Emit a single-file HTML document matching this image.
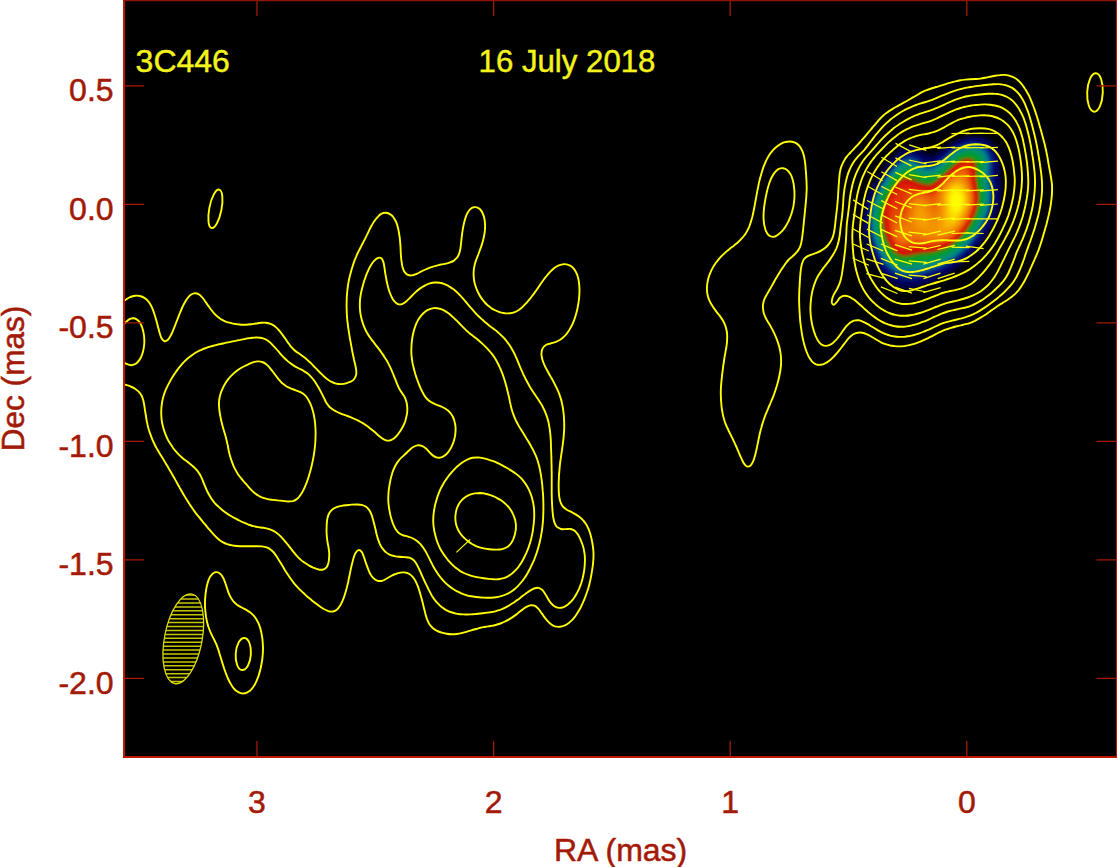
<!DOCTYPE html>
<html><head><meta charset="utf-8"><title>3C446 16 July 2018</title>
<style>
html,body{margin:0;padding:0;background:#fff;}
body{width:1117px;height:867px;overflow:hidden;}
svg{display:block;}
text{font-family:"Liberation Sans",sans-serif;font-size:32px;}
.ax text{fill:#9a1c0a;stroke:#b81a06;stroke-width:0.55px;}
.yl text{fill:#f4f41c;stroke:#f4f41c;stroke-width:0.45px;}
</style></head><body>
<svg width="1117" height="867" viewBox="0 0 1117 867">
<defs><filter id="bl" x="-5%" y="-5%" width="110%" height="110%"><feGaussianBlur stdDeviation="0.8"/></filter>
<clipPath id="pc"><rect x="124" y="0" width="993" height="757"/></clipPath></defs>
<rect x="0" y="0" width="1117" height="867" fill="#fff"/>
<rect x="124" y="0" width="993" height="757" fill="#000"/>
<g clip-path="url(#pc)">
<g filter="url(#bl)"><path d="M914.0 292.0L910.0 292.4L907.0 292.3L901.0 291.3L898.0 290.3L895.0 289.0L892.0 287.4L889.0 285.4L883.0 280.3L877.5 274.0L872.7 267.0L868.5 259.0L864.7 250.0L862.2 242.0L860.4 233.0L859.8 225.0L860.1 216.0L861.2 208.0L863.3 200.0L866.5 192.0L869.5 186.0L874.4 178.0L881.4 168.0L887.3 160.0L892.0 154.3L896.0 150.2L899.0 147.7L903.0 145.3L906.0 144.1L909.0 143.5L912.0 143.4L914.0 143.6L917.0 144.5L919.0 145.5L926.0 150.1L928.0 151.2L930.0 151.8L932.0 151.8L935.0 151.1L937.2 150.0L948.0 142.6L953.0 139.6L958.0 137.2L963.0 135.3L970.0 133.9L976.0 133.5L982.0 134.3L985.0 135.1L988.0 136.2L991.0 137.8L994.0 140.0L996.0 142.0L998.4 145.0L1000.0 148.0L1001.2 151.0L1002.3 155.0L1002.7 158.0L1003.0 174.0L1004.3 189.0L1004.2 194.0L1003.9 198.0L1002.9 204.0L1001.3 210.0L998.8 217.0L995.7 224.0L992.7 230.0L989.2 236.0L985.3 242.0L981.8 247.0L977.8 252.0L973.0 257.4L968.0 262.3L963.0 266.7L957.0 271.4L951.0 275.6L945.0 279.3L939.0 282.7L931.0 286.5L924.0 289.4L918.0 291.2L914.0 292.0Z" fill="#00001b"/><path d="M915.0 287.1L911.0 287.6L908.0 287.7L905.0 287.4L902.0 286.9L899.0 286.0L896.0 284.7L893.0 283.2L890.0 281.2L885.0 277.0L879.6 271.0L874.8 264.0L870.6 256.0L866.7 246.0L864.4 238.0L863.1 230.0L862.7 222.0L863.2 214.0L864.6 206.0L867.5 197.0L870.6 190.0L874.5 183.0L878.3 177.0L884.6 168.0L889.2 162.0L893.0 157.5L897.0 153.6L901.0 150.6L904.0 149.0L906.0 148.3L909.0 147.7L912.0 147.7L914.0 148.0L918.0 149.6L925.0 154.2L927.0 155.3L929.0 155.9L931.4 156.0L934.0 155.4L937.0 153.9L948.0 145.9L953.0 142.7L958.0 140.2L963.0 138.3L966.0 137.5L970.0 136.8L976.0 136.6L982.0 137.5L987.0 139.4L990.0 141.3L992.1 143.0L994.0 145.1L996.0 148.0L997.5 151.0L998.5 154.0L999.4 160.0L999.3 175.0L1000.7 191.0L1000.4 198.0L999.5 204.0L997.6 211.0L995.4 217.0L992.2 224.0L988.6 231.0L985.6 236.0L978.7 246.0L974.6 251.0L970.9 255.0L966.9 259.0L962.0 263.3L957.0 267.2L951.0 271.4L946.0 274.5L940.0 277.8L934.0 280.6L927.0 283.5L921.0 285.6L915.0 287.1Z" fill="#000050"/><path d="M913.0 284.0L907.0 284.3L904.0 283.9L901.0 283.3L896.0 281.4L893.0 279.7L890.0 277.7L884.7 273.0L879.6 267.0L875.2 260.0L871.3 252.0L868.4 244.0L866.2 236.0L865.1 229.0L864.8 221.0L865.4 213.0L866.7 206.0L869.2 198.0L872.8 190.0L876.7 183.0L880.5 177.0L885.4 170.0L890.0 164.0L894.0 159.4L897.0 156.6L901.0 153.5L904.0 152.0L906.0 151.2L909.0 150.7L911.0 150.7L914.0 151.2L918.0 153.0L924.0 157.0L926.0 158.1L929.0 159.0L931.0 159.0L934.0 158.2L937.0 156.6L949.0 147.6L954.0 144.4L958.0 142.3L963.0 140.4L969.0 139.0L975.0 138.7L980.0 139.4L985.0 141.2L988.0 142.9L990.0 144.5L992.0 146.6L993.7 149.0L994.7 151.0L995.8 154.0L996.5 157.0L997.0 161.0L996.8 176.0L998.1 192.0L997.7 200.0L996.6 206.0L994.8 212.0L992.5 218.0L989.3 225.0L985.5 232.0L982.4 237.0L975.9 246.0L972.0 250.6L968.0 254.8L964.0 258.6L959.0 262.7L954.0 266.4L949.0 269.7L944.0 272.6L938.0 275.6L931.0 278.6L923.0 281.6L917.0 283.3L913.0 284.0Z" fill="#020660"/><path d="M914.0 281.2L908.0 281.6L905.0 281.4L902.0 280.9L899.0 280.0L896.0 278.7L891.0 275.7L886.0 271.4L881.3 266.0L877.4 260.0L873.3 252.0L870.2 244.0L867.8 235.0L866.6 227.0L866.4 220.0L867.2 212.0L868.6 205.0L871.3 197.0L874.5 190.0L877.8 184.0L881.6 178.0L886.5 171.0L890.3 166.0L894.0 161.8L897.0 158.9L900.0 156.6L904.0 154.3L907.0 153.4L909.0 153.1L911.0 153.1L913.0 153.5L917.0 155.1L923.0 159.1L926.0 160.7L928.0 161.3L931.0 161.3L934.0 160.4L936.7 159.0L952.0 147.4L957.0 144.5L962.0 142.4L968.0 140.9L971.0 140.5L974.0 140.4L979.0 141.1L981.0 141.6L984.0 142.8L986.0 144.0L988.6 146.0L990.5 148.0L992.0 150.2L993.4 153.0L994.3 156.0L994.8 159.0L995.0 162.0L994.7 176.0L996.1 192.0L996.1 196.0L995.7 200.0L994.6 206.0L992.9 212.0L990.6 218.0L987.3 225.0L981.6 235.0L978.3 240.0L974.5 245.0L971.0 249.1L967.0 253.3L963.0 257.0L958.0 261.1L949.0 267.3L943.0 270.7L938.0 273.2L932.0 275.7L924.0 278.5L918.0 280.3L914.0 281.2Z" fill="#040c70"/><path d="M913.0 279.0L907.0 279.3L902.0 278.6L899.0 277.7L896.0 276.4L891.0 273.3L886.0 268.9L881.2 263.0L877.5 257.0L873.7 249.0L871.2 242.0L869.1 234.0L868.1 227.0L867.9 219.0L868.5 212.0L870.3 204.0L872.7 197.0L876.4 189.0L879.8 183.0L883.7 177.0L887.3 172.0L891.2 167.0L895.0 162.8L898.0 160.1L901.0 157.9L904.0 156.3L907.0 155.4L909.0 155.1L911.0 155.2L913.0 155.6L917.0 157.4L922.5 161.0L925.0 162.4L928.0 163.3L931.0 163.3L934.0 162.3L936.5 161.0L940.0 158.5L948.0 152.0L952.0 149.1L957.0 146.1L962.0 143.9L968.0 142.3L973.0 141.9L978.0 142.4L981.0 143.3L983.0 144.2L985.0 145.3L987.2 147.0L989.0 149.0L990.4 151.0L991.5 153.0L992.5 156.0L993.1 159.0L993.4 162.0L992.9 176.0L994.4 192.0L994.4 196.0L994.1 200.0L993.2 205.0L991.3 212.0L988.5 219.0L985.7 225.0L982.4 231.0L979.3 236.0L972.6 245.0L969.0 249.1L965.0 253.2L961.0 256.7L956.0 260.7L947.0 266.5L942.0 269.2L937.0 271.5L931.0 273.9L923.0 276.6L917.0 278.2L913.0 279.0Z" fill="#041b7c"/><path d="M912.0 277.1L909.0 277.4L906.0 277.3L901.0 276.4L898.0 275.3L895.0 273.9L890.0 270.4L885.4 266.0L881.5 261.0L877.4 254.0L874.3 247.0L871.7 239.0L869.9 231.0L869.1 224.0L869.2 217.0L870.1 210.0L871.8 203.0L874.3 196.0L877.6 189.0L880.5 184.0L884.3 178.0L888.6 172.0L892.0 167.8L895.0 164.6L898.0 161.8L901.0 159.6L904.0 158.1L906.0 157.4L908.0 157.0L910.0 157.0L912.0 157.3L916.0 158.8L922.5 163.0L925.0 164.3L928.0 165.1L931.0 165.0L934.0 164.0L937.0 162.3L940.0 160.2L948.0 153.5L952.0 150.5L957.0 147.4L962.0 145.1L968.0 143.6L973.0 143.2L978.0 143.9L981.0 144.9L983.0 145.8L986.0 148.0L988.6 151.0L990.3 154.0L991.5 158.0L991.9 161.0L992.0 164.0L991.5 174.0L991.5 178.0L992.7 189.0L993.0 194.0L992.8 198.0L992.4 202.0L990.5 210.0L987.6 218.0L983.2 227.0L980.3 232.0L977.1 237.0L973.4 242.0L970.1 246.0L963.0 253.2L959.0 256.6L954.0 260.4L945.0 265.9L936.0 270.1L930.0 272.3L922.0 274.8L916.0 276.4L912.0 277.1Z" fill="#023485"/><path d="M914.0 275.0L908.0 275.6L905.0 275.4L902.0 274.9L897.0 273.1L892.0 270.1L887.3 266.0L883.0 260.8L879.4 255.0L875.6 247.0L873.2 240.0L871.2 232.0L870.3 225.0L870.3 217.0L871.1 210.0L872.8 203.0L875.4 196.0L878.8 189.0L881.6 184.0L884.8 179.0L888.4 174.0L892.0 169.4L895.0 166.1L898.0 163.4L901.0 161.2L904.0 159.6L908.0 158.6L910.0 158.6L912.0 159.0L916.0 160.6L922.0 164.5L925.0 166.0L928.0 166.7L931.0 166.5L934.0 165.5L937.0 163.8L940.8 161.0L952.0 151.8L957.0 148.6L962.0 146.3L965.0 145.3L968.0 144.7L973.0 144.4L978.0 145.2L982.0 146.8L985.0 149.0L987.0 151.1L988.7 154.0L990.1 158.0L990.6 161.0L990.7 164.0L990.1 174.0L990.1 178.0L991.4 190.0L991.7 195.0L991.1 202.0L989.6 209.0L986.7 217.0L982.4 226.0L979.6 231.0L976.4 236.0L970.3 244.0L966.7 248.0L963.0 251.6L959.0 255.1L955.0 258.1L947.0 263.3L943.0 265.4L938.0 267.7L933.0 269.6L927.0 271.6L919.0 273.9L914.0 275.0Z" fill="#004b8c"/><path d="M915.0 273.1L909.0 273.9L904.0 273.7L899.0 272.4L894.0 269.8L889.0 265.9L885.0 261.5L881.2 256.0L877.6 249.0L874.6 241.0L872.5 233.0L871.4 226.0L871.2 219.0L871.8 212.0L873.5 204.0L875.6 198.0L879.2 190.0L881.4 186.0L885.2 180.0L888.7 175.0L892.0 170.9L895.0 167.6L898.0 164.8L901.0 162.6L904.0 161.1L906.0 160.4L908.0 160.1L910.0 160.2L912.0 160.5L916.0 162.3L921.8 166.0L924.0 167.2L927.0 168.1L929.0 168.2L930.8 168.0L934.0 166.9L937.0 165.2L941.0 162.2L952.0 153.0L957.0 149.7L961.0 147.7L964.0 146.7L967.0 145.9L972.0 145.5L977.0 146.1L981.0 147.7L984.0 149.8L986.0 152.0L987.8 155.0L989.0 159.0L989.5 164.0L988.9 178.0L990.2 190.0L990.5 195.0L990.0 202.0L988.4 209.0L985.6 217.0L981.8 225.0L976.5 234.0L973.7 238.0L969.8 243.0L963.0 250.2L959.0 253.7L955.0 256.7L951.0 259.4L946.0 262.4L938.0 266.2L929.0 269.4L915.0 273.1Z" fill="#02618c"/><path d="M912.0 272.1L909.0 272.4L906.0 272.4L901.0 271.5L896.0 269.5L892.0 266.9L889.0 264.3L887.0 262.2L883.1 257.0L879.7 251.0L876.7 244.0L874.5 237.0L872.8 229.0L872.1 222.0L872.3 216.0L873.2 209.0L874.7 203.0L877.3 196.0L880.7 189.0L886.2 180.0L889.8 175.0L893.0 171.1L896.0 168.0L899.0 165.3L902.0 163.4L904.0 162.4L906.0 161.8L908.0 161.5L910.0 161.6L912.0 162.0L915.0 163.3L921.0 167.1L924.0 168.6L927.0 169.5L930.0 169.5L933.0 168.6L937.0 166.5L941.0 163.5L949.0 156.5L953.0 153.3L957.0 150.7L961.0 148.7L966.0 147.1L971.0 146.5L974.0 146.6L976.0 147.0L980.0 148.4L983.0 150.5L985.3 153.0L986.9 156.0L987.9 159.0L988.3 162.0L988.4 165.0L987.8 178.0L989.2 191.0L989.4 196.0L988.8 203.0L986.8 211.0L983.7 219.0L979.6 227.0L976.7 232.0L973.3 237.0L967.0 244.7L960.0 251.5L956.0 254.7L952.0 257.5L944.0 262.2L936.0 265.7L931.0 267.3L923.0 269.6L916.0 271.4L912.0 272.1Z" fill="#04778c"/><path d="M908.0 271.0L903.0 270.6L898.0 269.0L895.0 267.5L893.0 266.2L889.0 262.7L885.0 258.0L881.3 252.0L878.5 246.0L875.8 238.0L874.3 232.0L873.2 225.0L873.0 218.0L873.6 212.0L874.7 206.0L876.6 200.0L879.5 193.0L883.3 186.0L888.6 178.0L894.0 171.3L899.0 166.6L902.0 164.6L904.0 163.7L906.0 163.1L908.0 162.8L911.0 163.1L915.0 164.7L921.0 168.5L924.0 170.0L927.0 170.7L930.0 170.7L933.0 169.9L937.0 167.7L941.0 164.7L949.0 157.6L953.0 154.4L957.0 151.7L961.0 149.7L966.0 148.1L971.0 147.5L974.0 147.7L976.0 148.1L980.0 149.7L983.0 152.0L984.6 154.0L986.1 157.0L987.0 160.0L987.3 165.0L986.7 178.0L987.0 182.0L988.2 191.0L988.4 197.0L987.6 204.0L985.5 212.0L982.2 220.0L977.5 229.0L974.3 234.0L971.5 238.0L965.0 245.5L961.0 249.4L957.0 252.7L949.0 258.2L941.0 262.4L933.0 265.4L916.0 269.9L912.0 270.7L908.0 271.0Z" fill="#058889"/><path d="M913.0 269.1L907.0 269.7L902.0 269.1L897.0 267.2L893.0 264.8L889.0 261.2L885.0 256.3L881.8 251.0L878.7 244.0L876.4 237.0L874.6 229.0L873.9 222.0L874.0 216.0L874.7 210.0L876.4 203.0L879.0 196.0L882.4 189.0L888.1 180.0L894.0 172.5L899.0 167.8L902.0 165.8L904.0 164.9L906.0 164.3L908.0 164.1L911.0 164.4L914.0 165.6L921.0 169.8L924.0 171.2L927.0 172.0L930.0 171.9L933.0 171.0L937.0 168.8L941.0 165.8L953.0 155.4L957.0 152.7L961.0 150.6L966.0 148.9L971.0 148.4L975.0 148.8L979.0 150.3L981.4 152.0L983.3 154.0L985.0 157.0L985.9 160.0L986.4 165.0L985.7 175.0L985.8 179.0L987.2 191.0L987.5 196.0L986.9 203.0L985.2 210.0L982.2 218.0L978.2 226.0L972.6 235.0L969.6 239.0L966.2 243.0L960.0 249.1L956.0 252.4L952.0 255.2L944.0 259.8L936.0 263.2L929.0 265.3L913.0 269.1Z" fill="#048b7d"/><path d="M911.0 268.1L906.0 268.4L901.0 267.5L898.0 266.4L896.0 265.4L892.0 262.6L888.0 258.7L884.0 253.1L880.9 247.0L878.2 240.0L876.3 233.0L875.0 226.0L874.6 219.0L875.0 213.0L876.3 206.0L878.2 200.0L880.7 194.0L884.4 187.0L889.7 179.0L895.0 172.6L898.0 169.8L900.0 168.2L904.0 166.1L906.0 165.5L908.0 165.3L911.0 165.7L914.0 166.9L920.8 171.0L923.0 172.1L925.0 172.8L927.0 173.1L930.0 173.0L933.0 172.1L937.0 169.9L942.0 166.0L953.0 156.4L957.0 153.6L961.0 151.5L966.0 149.8L971.0 149.3L975.0 149.8L977.0 150.5L979.0 151.5L981.0 153.0L983.0 155.4L984.3 158.0L985.1 161.0L985.4 166.0L984.8 175.0L984.8 179.0L986.4 192.0L986.5 198.0L985.7 205.0L983.7 212.0L980.4 220.0L976.2 228.0L973.7 232.0L970.2 237.0L964.2 244.0L961.0 247.1L957.0 250.5L950.0 255.4L942.0 259.7L935.0 262.4L928.0 264.3L915.0 267.4L911.0 268.1Z" fill="#028f72"/><path d="M909.0 267.1L904.0 266.9L901.0 266.3L899.0 265.6L895.0 263.6L891.0 260.5L887.0 256.0L883.8 251.0L880.9 245.0L878.4 238.0L876.7 231.0L875.6 224.0L875.4 218.0L875.9 212.0L877.1 206.0L878.9 200.0L881.4 194.0L885.2 187.0L890.0 179.8L895.0 173.7L898.0 170.9L900.0 169.3L904.0 167.2L906.0 166.7L908.0 166.5L911.0 166.9L914.0 168.2L920.0 171.8L923.0 173.3L925.0 173.9L927.0 174.2L930.0 174.1L932.0 173.6L934.0 172.7L938.0 170.3L942.0 167.1L953.0 157.3L957.0 154.5L961.0 152.3L966.0 150.6L970.0 150.1L974.0 150.5L976.0 151.1L978.0 152.0L980.0 153.5L982.0 155.7L983.2 158.0L984.1 161.0L984.5 166.0L983.9 175.0L983.9 179.0L985.5 192.0L985.7 198.0L984.8 205.0L982.9 212.0L979.6 220.0L975.3 228.0L972.2 233.0L969.2 237.0L963.1 244.0L960.0 246.9L956.0 250.2L949.0 255.0L942.0 258.6L934.0 261.6L915.0 266.1L909.0 267.1Z" fill="#019266"/><path d="M914.0 265.1L909.0 265.9L904.0 265.8L901.0 265.2L899.0 264.5L895.0 262.4L891.0 259.2L887.0 254.5L883.6 249.0L881.0 243.0L878.7 236.0L876.9 228.0L876.2 221.0L876.3 215.0L877.3 208.0L879.0 202.0L881.3 196.0L884.8 189.0L889.9 181.0L895.0 174.8L898.0 172.0L900.0 170.4L902.0 169.2L904.0 168.3L906.0 167.8L908.0 167.6L911.0 168.1L914.0 169.4L920.0 173.0L923.0 174.4L925.0 175.0L927.0 175.3L930.0 175.2L932.0 174.6L934.0 173.8L938.0 171.3L942.0 168.1L953.0 158.2L957.0 155.3L960.0 153.6L965.0 151.7L969.0 151.0L973.0 151.2L975.0 151.7L977.0 152.6L979.1 154.0L981.0 156.0L982.6 159.0L983.4 162.0L983.6 166.0L983.0 175.0L983.0 179.0L984.7 192.0L984.9 197.0L984.2 204.0L982.4 211.0L979.7 218.0L975.7 226.0L970.6 234.0L964.9 241.0L962.0 244.0L958.0 247.7L951.0 252.8L944.0 256.7L937.0 259.6L931.0 261.3L914.0 265.1Z" fill="#00965a"/><path d="M913.0 264.1L908.0 264.8L903.0 264.5L899.0 263.3L895.0 261.2L891.0 257.9L887.0 253.1L884.0 248.0L881.4 242.0L879.2 235.0L877.7 228.0L877.0 221.0L877.1 215.0L877.8 209.0L879.7 202.0L882.4 195.0L885.5 189.0L890.1 182.0L895.0 175.9L898.0 173.0L900.0 171.5L902.0 170.3L904.0 169.4L907.0 168.8L910.0 169.0L913.0 170.1L920.0 174.1L923.0 175.5L927.0 176.4L930.0 176.2L932.0 175.6L934.0 174.8L938.0 172.3L942.1 169.0L954.0 158.3L958.0 155.5L961.0 153.9L966.0 152.2L970.0 151.8L974.0 152.3L977.0 153.6L979.0 155.2L980.5 157.0L981.6 159.0L982.4 162.0L982.8 166.0L982.2 175.0L982.2 179.0L983.9 192.0L984.1 198.0L983.3 205.0L981.3 212.0L978.5 219.0L974.3 227.0L969.0 235.0L963.0 242.0L957.0 247.5L950.0 252.4L943.0 256.2L936.0 258.9L931.0 260.2L913.0 264.1Z" fill="#00984f"/><path d="M912.0 263.1L907.0 263.7L904.0 263.5L902.0 263.2L898.0 261.8L894.0 259.3L890.4 256.0L887.0 251.6L883.9 246.0L881.5 240.0L879.5 233.0L878.2 226.0L877.7 220.0L877.9 214.0L878.7 208.0L880.4 202.0L882.7 196.0L886.3 189.0L890.9 182.0L895.0 177.0L899.0 173.3L903.0 170.9L905.0 170.2L907.0 169.9L910.0 170.2L913.0 171.3L919.5 175.0L923.0 176.6L927.0 177.4L930.0 177.2L932.0 176.6L934.0 175.8L938.0 173.2L943.0 169.1L954.0 159.2L957.0 157.0L960.0 155.2L965.0 153.3L969.0 152.6L973.0 153.0L976.0 154.1L978.5 156.0L980.0 158.0L981.0 160.0L981.7 163.0L981.9 167.0L981.4 175.0L981.4 179.0L983.2 192.0L983.4 198.0L982.6 205.0L980.6 212.0L977.8 219.0L973.5 227.0L968.1 235.0L965.0 238.8L962.1 242.0L956.0 247.4L949.0 252.1L942.0 255.7L935.0 258.2L912.0 263.1Z" fill="#009944"/><path d="M911.0 262.1L906.0 262.6L902.0 262.1L898.0 260.7L893.8 258.0L890.0 254.3L886.9 250.0L884.0 244.4L881.6 238.0L879.8 231.0L878.7 224.0L878.4 218.0L878.8 212.0L879.9 206.0L881.8 200.0L884.3 194.0L887.6 188.0L892.0 181.6L896.0 177.0L900.0 173.6L902.0 172.4L904.0 171.5L907.0 171.0L910.0 171.3L913.0 172.5L919.3 176.0L923.0 177.6L927.0 178.4L930.0 178.2L932.0 177.6L934.0 176.7L938.0 174.2L943.0 170.1L954.0 160.1L958.0 157.2L961.0 155.5L965.0 154.0L969.0 153.4L973.0 153.9L976.0 155.2L978.0 156.9L979.0 158.1L980.0 160.0L980.8 163.0L981.1 167.0L980.6 175.0L980.6 179.0L982.5 193.0L982.7 199.0L981.9 205.0L979.9 212.0L976.6 220.0L972.8 227.0L967.3 235.0L962.0 241.1L958.9 244.0L955.0 247.2L948.0 251.8L942.0 254.8L935.0 257.2L911.0 262.1Z" fill="#009b39"/><path d="M910.0 261.1L905.0 261.4L901.0 260.8L897.0 259.1L893.0 256.2L890.0 253.0L886.6 248.0L884.2 243.0L882.1 237.0L880.3 230.0L879.4 224.0L879.1 218.0L879.5 212.0L880.6 206.0L882.5 200.0L885.1 194.0L888.4 188.0L892.0 182.8L896.1 178.0L900.0 174.6L902.0 173.4L904.0 172.6L907.0 172.1L910.0 172.5L913.0 173.7L919.0 177.0L923.0 178.7L927.0 179.4L930.0 179.2L932.0 178.6L934.0 177.7L938.0 175.1L943.0 171.0L954.0 161.0L958.0 158.0L961.0 156.3L965.0 154.8L969.0 154.2L971.0 154.4L973.0 154.8L975.5 156.0L977.0 157.2L978.4 159.0L979.4 161.0L980.1 164.0L980.3 167.0L979.8 175.0L979.8 179.0L981.8 193.0L982.0 199.0L981.7 202.0L981.0 206.0L978.9 213.0L975.4 221.0L971.4 228.0L966.0 235.6L960.1 242.0L954.0 247.1L947.0 251.5L941.0 254.3L935.0 256.3L930.0 257.4L920.0 259.0L910.0 261.1Z" fill="#009c2e"/><path d="M910.0 260.0L905.0 260.4L901.0 259.7L897.0 258.0L894.0 255.9L890.2 252.0L887.5 248.0L884.6 242.0L882.5 236.0L880.9 229.0L880.1 223.0L879.8 217.0L880.3 211.0L881.3 206.0L883.1 200.0L885.8 194.0L889.0 188.3L892.7 183.0L896.0 179.2L900.0 175.7L903.0 174.0L906.0 173.2L909.0 173.4L912.0 174.4L919.0 178.1L923.0 179.7L927.0 180.4L930.0 180.2L932.0 179.6L934.0 178.7L938.0 176.0L943.0 171.9L954.0 161.8L957.7 159.0L961.0 157.1L965.0 155.6L969.0 155.1L972.0 155.4L975.0 156.8L976.5 158.0L977.9 160.0L978.8 162.0L979.2 164.0L979.4 168.0L979.0 175.0L979.1 179.0L981.1 193.0L981.3 199.0L980.3 206.0L978.2 213.0L974.7 221.0L970.7 228.0L965.7 235.0L960.0 241.2L954.0 246.2L947.0 250.6L941.0 253.4L935.0 255.3L930.0 256.4L920.0 257.8L910.0 260.0Z" fill="#009e23"/><path d="M909.0 259.1L905.0 259.3L901.0 258.7L897.0 257.0L893.1 254.0L890.0 250.5L887.2 246.0L884.9 241.0L883.0 235.0L881.5 228.0L880.7 222.0L880.6 216.0L881.0 211.0L882.2 205.0L884.0 199.6L886.5 194.0L890.0 188.0L893.6 183.0L897.0 179.2L900.0 176.8L903.0 175.1L906.0 174.4L909.0 174.5L912.0 175.6L919.0 179.1L923.0 180.7L927.0 181.4L930.0 181.2L932.0 180.6L934.0 179.6L938.0 176.9L944.0 171.9L954.0 162.7L957.0 160.3L960.0 158.4L964.0 156.7L968.0 155.9L971.0 156.1L974.0 157.3L976.0 158.9L976.8 160.0L977.8 162.0L978.3 164.0L978.6 168.0L978.3 175.0L978.3 179.0L978.8 183.0L980.4 193.0L980.6 199.0L980.4 202.0L979.7 206.0L977.6 213.0L974.5 220.0L970.0 228.0L964.9 235.0L962.0 238.3L959.0 241.3L953.0 246.1L946.0 250.3L941.0 252.5L935.0 254.4L930.0 255.4L920.0 256.7L909.0 259.1Z" fill="#1c941b"/><path d="M908.0 258.1L904.0 258.2L900.0 257.3L896.0 255.3L893.0 252.8L889.9 249.0L887.0 244.0L885.0 239.0L883.2 233.0L882.1 227.0L881.4 221.0L881.4 215.0L881.9 210.0L883.0 204.8L885.0 199.0L887.8 193.0L890.8 188.0L894.0 183.6L898.0 179.4L900.0 177.8L902.0 176.6L905.0 175.6L907.0 175.5L910.0 176.0L919.0 180.2L924.0 182.0L928.0 182.4L930.0 182.2L932.0 181.6L935.0 180.0L939.0 177.0L954.0 163.6L957.0 161.2L960.0 159.2L964.0 157.5L968.0 156.7L971.0 157.0L974.0 158.4L975.0 159.3L976.3 161.0L977.2 163.0L977.6 165.0L977.8 168.0L977.5 175.0L977.6 179.0L978.0 183.0L979.8 193.0L980.0 197.0L979.9 200.0L979.6 203.0L978.8 207.0L976.5 214.0L972.8 222.0L968.6 229.0L963.3 236.0L958.0 241.3L952.0 245.9L945.0 249.9L939.0 252.3L934.0 253.7L930.0 254.4L920.0 255.6L908.0 258.1Z" fill="#378a14"/><path d="M908.0 257.0L904.0 257.1L900.0 256.3L897.0 254.8L893.4 252.0L890.8 249.0L888.0 244.4L886.0 239.7L884.2 234.0L883.0 228.0L882.1 221.0L882.1 215.0L882.6 210.0L884.0 204.0L885.7 199.0L888.0 194.0L891.0 188.9L894.7 184.0L898.0 180.5L900.0 179.0L902.0 177.8L905.0 176.8L907.0 176.6L910.0 177.2L919.0 181.3L924.0 183.0L928.0 183.4L930.0 183.2L932.0 182.6L935.0 181.0L938.0 178.8L944.0 173.6L954.6 164.0L957.1 162.0L960.0 160.1L964.0 158.3L967.0 157.6L970.0 157.8L973.0 158.9L975.2 161.0L976.2 163.0L976.7 165.0L977.0 168.0L976.8 179.0L977.3 183.0L979.1 193.0L979.4 197.0L979.3 200.0L978.4 206.0L976.3 213.0L972.7 221.0L968.6 228.0L963.3 235.0L958.0 240.5L952.0 245.1L945.0 249.1L939.0 251.5L934.0 252.8L930.0 253.5L919.0 254.6L908.0 257.0Z" fill="#53800c"/><path d="M907.0 256.0L903.0 256.0L899.5 255.0L896.0 253.1L893.0 250.4L890.4 247.0L888.0 242.7L886.1 238.0L884.5 232.0L883.4 226.0L882.9 220.0L882.9 214.0L883.5 209.0L884.7 204.0L886.5 199.0L889.0 193.7L892.0 188.8L895.7 184.0L899.0 180.9L902.0 178.9L905.0 178.0L907.0 177.9L910.0 178.5L919.0 182.4L924.0 184.0L928.0 184.4L930.0 184.2L932.0 183.6L935.0 181.9L938.0 179.7L955.0 164.5L960.0 160.9L964.0 159.1L967.0 158.5L970.0 158.7L972.8 160.0L974.0 161.1L975.0 162.7L976.0 166.0L976.2 169.0L976.1 179.0L976.6 183.0L978.5 193.0L978.8 197.0L978.6 201.0L977.6 207.0L975.3 214.0L971.5 222.0L967.2 229.0L962.5 235.0L957.0 240.5L951.0 245.0L944.0 248.7L939.0 250.6L934.0 251.9L930.0 252.5L919.0 253.5L910.0 255.6L907.0 256.0Z" fill="#865306"/><path d="M906.0 255.0L902.0 254.7L899.0 253.8L896.0 252.0L893.0 249.2L890.0 245.0L888.0 241.0L886.3 236.0L885.0 230.7L884.1 225.0L883.6 219.0L883.8 213.0L884.5 208.0L885.8 203.0L887.7 198.0L890.0 193.4L893.0 188.7L896.0 184.9L899.0 182.1L902.0 180.2L905.0 179.2L907.0 179.1L910.0 179.8L919.0 183.4L924.0 185.0L928.0 185.5L931.0 185.0L934.0 183.6L937.0 181.4L955.0 165.4L960.0 161.8L964.0 159.9L967.0 159.4L970.0 159.7L972.0 160.7L973.0 161.6L974.0 163.0L975.0 166.0L975.3 169.0L975.4 179.0L977.8 193.0L978.1 197.0L978.0 201.0L977.0 207.0L974.6 214.0L970.8 222.0L966.5 229.0L961.7 235.0L956.0 240.5L950.0 244.8L944.0 247.9L939.0 249.7L934.0 251.0L930.0 251.5L919.0 252.4L909.0 254.6L906.0 255.0Z" fill="#c11c01"/><path d="M911.0 253.0L907.0 253.8L903.0 253.8L900.0 253.1L897.0 251.5L894.0 249.0L891.6 246.0L889.3 242.0L887.4 237.0L885.8 231.0L884.8 224.0L884.5 218.0L884.7 212.0L885.6 207.0L887.0 201.9L889.0 197.0L892.0 191.6L895.4 187.0L899.0 183.4L902.0 181.5L905.0 180.6L907.0 180.5L909.0 180.9L919.0 184.5L925.0 186.2L929.0 186.5L932.0 185.7L934.0 184.7L937.0 182.4L954.0 167.2L959.4 163.0L963.0 161.2L966.0 160.4L969.0 160.6L971.0 161.4L972.0 162.2L973.0 163.4L973.8 165.0L974.2 167.0L974.6 179.0L977.2 193.0L977.5 197.0L977.5 200.0L976.6 206.0L974.4 213.0L971.3 220.0L967.2 227.0L962.0 233.8L957.0 238.8L951.0 243.3L945.0 246.6L940.0 248.5L935.0 249.9L930.0 250.6L919.0 251.2L916.0 251.7L911.0 253.0Z" fill="#d21000"/><path d="M908.0 253.1L904.0 253.4L901.0 252.9L898.0 251.6L895.0 249.4L892.1 246.0L890.2 243.0L888.5 239.0L886.9 234.0L885.7 228.0L885.0 222.0L884.9 216.0L885.3 211.0L886.2 206.0L888.0 200.4L890.0 196.0L893.0 190.9L896.0 187.0L899.0 184.1L902.0 182.2L905.0 181.3L907.0 181.2L909.0 181.6L920.0 185.4L925.0 186.7L929.0 187.0L932.0 186.3L934.0 185.2L937.0 182.9L954.0 167.7L957.0 165.2L960.0 163.1L963.0 161.6L966.0 160.9L969.0 161.1L971.0 162.1L972.7 164.0L973.8 167.0L974.0 170.0L974.3 179.0L976.9 193.0L977.2 197.0L977.2 200.0L976.3 206.0L974.1 213.0L970.4 221.0L966.2 228.0L961.4 234.0L956.0 239.3L950.0 243.5L944.0 246.6L939.0 248.4L934.0 249.6L930.0 250.1L919.0 250.6L916.0 251.1L908.0 253.1Z" fill="#d51500"/><path d="M905.0 252.0L902.0 251.8L899.0 250.7L896.0 248.8L893.4 246.0L891.4 243.0L889.5 239.0L888.2 235.0L887.1 230.0L886.4 225.0L886.1 219.0L886.2 214.0L886.8 209.0L887.7 205.0L889.0 201.0L891.0 196.6L894.0 191.6L896.0 189.0L899.0 186.0L902.0 184.1L905.0 183.2L907.0 183.2L909.0 183.5L922.0 187.3L926.0 188.3L929.0 188.4L932.0 187.7L934.0 186.6L936.0 185.1L953.0 169.7L959.0 164.9L962.0 163.2L965.0 162.3L968.0 162.3L970.0 163.2L971.6 165.0L972.6 168.0L973.4 180.0L976.2 194.0L976.5 198.0L976.4 201.0L976.0 204.0L975.1 208.0L972.6 215.0L969.0 222.1L964.6 229.0L960.0 234.5L955.0 239.1L949.0 243.1L943.0 246.0L938.0 247.6L934.0 248.4L930.0 248.8L921.0 249.0L918.0 249.2L915.0 249.8L908.0 251.6L905.0 252.0Z" fill="#d91b00"/><path d="M908.0 250.1L905.0 250.5L902.0 250.3L899.0 249.3L896.0 247.2L893.2 244.0L891.5 241.0L889.8 237.0L888.7 233.0L887.8 227.0L887.4 221.0L887.5 215.0L888.0 210.0L889.0 205.4L890.9 200.0L893.0 195.8L895.0 192.7L897.2 190.0L900.0 187.5L902.8 186.0L905.0 185.5L907.0 185.5L910.0 185.9L927.0 189.9L930.0 189.9L932.0 189.3L935.0 187.4L947.0 176.1L955.0 169.2L959.0 166.2L962.0 164.5L965.0 163.7L967.0 163.7L969.0 164.5L970.4 166.0L971.0 167.2L971.5 169.0L972.5 180.0L975.5 194.0L975.7 200.0L974.8 206.0L972.6 213.0L969.4 220.0L965.0 227.1L960.0 233.4L955.0 238.0L950.0 241.5L944.0 244.5L939.7 246.0L935.0 247.1L930.0 247.6L921.0 247.5L918.0 247.6L915.0 248.2L908.0 250.1Z" fill="#dd2100"/><path d="M905.0 249.0L902.0 248.8L900.0 248.2L897.0 246.4L895.0 244.4L893.3 242.0L891.7 239.0L890.4 235.0L889.5 231.0L888.9 226.0L888.8 220.0L889.1 215.0L890.0 209.0L891.0 205.0L892.0 202.2L894.0 198.0L896.0 194.9L898.5 192.0L901.0 190.0L903.1 189.0L906.0 188.4L911.0 188.4L916.0 188.9L928.0 191.6L930.0 191.6L932.0 191.1L935.0 189.1L942.9 181.0L947.0 177.2L954.0 171.2L958.0 168.2L961.0 166.4L964.0 165.3L966.0 165.2L968.0 166.0L969.0 167.0L969.6 168.0L970.2 170.0L971.5 180.0L974.5 193.0L975.0 197.0L974.9 201.0L973.9 207.0L971.5 214.0L967.4 222.0L963.0 228.7L958.3 234.0L953.7 238.0L948.0 241.6L942.0 244.2L937.0 245.5L933.0 246.1L929.0 246.3L920.0 245.9L917.0 246.1L914.0 246.7L908.0 248.5L905.0 249.0Z" fill="#e13000"/><path d="M907.0 247.0L904.0 247.4L902.0 247.2L900.0 246.6L898.0 245.4L896.0 243.6L894.1 241.0L893.0 239.0L891.8 236.0L890.9 232.0L890.4 228.0L890.3 224.0L890.6 220.0L891.0 217.3L892.0 212.9L893.0 210.0L894.0 207.9L895.0 206.5L896.0 205.7L897.0 206.1L898.7 208.0L900.0 208.6L901.0 208.4L902.0 207.5L903.0 205.0L903.2 203.0L903.1 199.0L903.3 197.0L904.4 195.0L905.4 194.0L908.0 192.2L911.5 191.0L916.0 190.6L920.0 191.2L928.0 193.3L930.0 193.5L932.0 193.1L933.0 192.6L935.0 191.0L941.1 184.0L946.0 179.2L956.0 170.9L960.0 168.3L963.0 167.1L965.0 167.0L967.0 167.8L968.1 169.0L969.0 171.3L970.5 180.0L973.4 191.0L974.2 196.0L974.2 201.0L973.1 207.0L970.7 214.0L967.2 221.0L963.0 227.4L959.0 232.2L954.0 236.7L949.0 240.0L943.0 242.7L938.0 244.1L933.0 244.8L929.0 244.9L921.0 244.3L917.0 244.3L914.0 244.9L907.0 247.0Z" fill="#e54400"/><path d="M907.0 245.2L904.0 245.6L901.0 245.2L898.0 243.5L896.0 241.5L894.0 238.1L892.9 235.0L892.0 230.0L892.0 226.0L892.3 223.0L893.0 220.5L894.0 218.4L895.0 217.2L897.0 216.2L900.0 215.6L902.0 214.9L903.3 214.0L904.8 212.0L906.3 208.0L908.2 199.0L909.6 196.0L911.0 194.5L913.0 193.3L915.0 192.7L917.0 192.5L921.0 193.0L929.0 195.6L931.0 195.7L932.0 195.6L934.0 194.3L935.0 193.3L940.6 186.0L944.2 182.0L948.0 178.5L953.0 174.5L958.0 171.0L961.0 169.5L963.0 169.0L964.0 169.0L965.0 169.2L966.0 169.8L967.0 171.0L967.8 173.0L969.8 181.0L972.6 191.0L973.4 196.0L973.4 201.0L972.4 207.0L969.9 214.0L966.4 221.0L962.0 227.5L958.0 232.1L953.0 236.4L948.0 239.4L942.0 241.8L937.0 243.0L932.0 243.5L928.0 243.4L920.0 242.5L916.0 242.5L913.0 243.1L907.0 245.2Z" fill="#e85600"/><path d="M907.0 243.0L904.0 243.6L901.0 243.2L899.0 242.1L897.0 240.2L895.6 238.0L894.4 235.0L893.8 232.0L893.7 228.0L894.3 225.0L895.0 223.4L896.0 222.0L898.0 220.6L903.0 218.6L905.0 217.0L906.0 215.6L907.0 213.5L907.8 211.0L910.2 201.0L911.0 198.9L912.2 197.0L913.3 196.0L915.0 195.0L917.0 194.5L919.0 194.4L923.0 195.3L930.0 198.5L932.0 198.8L933.0 198.6L934.0 197.8L935.0 196.6L938.9 190.0L941.8 186.0L945.0 182.4L949.0 178.8L954.0 175.0L959.0 172.0L962.0 171.1L964.0 171.4L965.0 172.0L966.0 173.2L967.0 175.5L971.5 190.0L972.6 196.0L972.7 201.0L971.6 207.0L969.1 214.0L965.5 221.0L961.0 227.5L957.0 231.9L952.0 235.9L947.0 238.7L942.0 240.6L937.0 241.7L932.0 242.0L928.0 241.8L919.0 240.5L916.0 240.4L912.0 241.2L907.0 243.0Z" fill="#eb6400"/><path d="M904.0 241.1L902.0 241.0L901.0 240.7L899.0 239.3L897.8 238.0L896.8 236.0L896.0 233.5L895.8 231.0L896.0 228.8L897.0 226.3L898.0 225.1L899.7 224.0L904.1 222.0L906.0 220.5L907.0 219.1L908.0 217.1L909.0 214.2L911.7 203.0L912.9 200.0L914.0 198.5L915.0 197.6L917.0 196.6L919.0 196.4L922.0 196.9L924.0 197.7L926.2 199.0L932.0 203.7L933.0 204.2L934.0 204.0L935.0 202.9L937.8 195.0L939.6 191.0L942.2 187.0L946.0 182.6L951.0 178.3L954.0 176.2L957.0 174.5L959.0 173.7L961.0 173.2L963.0 173.5L964.0 174.1L965.0 175.2L966.0 177.1L970.4 189.0L971.8 195.0L972.0 198.0L971.9 201.0L971.6 204.0L970.6 208.0L968.0 214.8L964.0 222.0L962.0 225.0L959.0 228.6L955.0 232.5L951.0 235.4L946.0 237.9L941.0 239.5L936.0 240.3L931.0 240.4L927.0 239.9L918.0 238.2L915.0 238.0L912.0 238.4L906.0 240.7L904.0 241.1Z" fill="#ee7100"/><path d="M941.0 238.0L935.0 238.6L930.0 238.4L925.0 237.5L916.0 235.2L913.0 234.7L910.0 235.1L905.0 237.3L903.0 237.6L901.2 237.0L900.0 235.9L899.0 233.7L899.0 231.0L900.0 229.1L901.0 228.2L906.0 225.8L908.0 223.6L909.0 221.6L910.0 218.4L913.0 204.9L914.2 202.0L916.0 199.8L918.0 198.8L920.0 198.6L922.0 199.1L923.9 200.0L925.2 201.0L927.2 203.0L932.0 209.9L933.0 210.9L934.0 211.4L935.0 211.4L936.0 210.8L937.0 209.1L937.3 208.0L938.3 199.0L939.6 194.0L941.4 190.0L943.4 187.0L945.9 184.0L947.9 182.0L953.0 178.1L956.0 176.4L958.0 175.6L960.0 175.2L962.0 175.5L963.0 176.0L964.0 177.0L966.0 180.3L969.0 187.5L970.6 193.0L971.2 197.0L971.2 201.0L970.6 205.0L969.5 209.0L967.1 215.0L964.3 220.0L961.0 224.9L957.5 229.0L954.0 232.1L950.0 234.8L946.0 236.6L941.0 238.0Z" fill="#f07e00"/><path d="M942.0 236.2L939.0 236.5L935.0 236.6L931.0 236.3L927.0 235.6L923.0 234.5L918.9 233.0L916.0 231.6L913.8 230.0L912.3 228.0L911.8 226.0L911.8 224.0L912.9 214.0L914.3 207.0L915.6 204.0L917.4 202.0L919.0 201.3L920.0 201.2L922.0 201.7L924.0 203.0L925.8 205.0L927.1 207.0L930.0 212.6L932.0 215.3L933.0 216.1L934.0 216.5L935.0 216.5L936.0 216.2L937.0 215.5L938.0 214.3L939.0 212.0L939.7 208.0L939.8 201.0L940.2 197.0L941.2 193.0L943.2 189.0L945.0 186.4L947.0 184.1L949.3 182.0L952.0 180.0L955.0 178.3L957.0 177.5L959.0 177.1L961.0 177.3L963.0 178.5L965.0 181.1L967.8 187.0L969.5 192.0L970.3 196.0L970.5 200.0L970.0 204.0L969.0 208.1L967.1 213.0L964.6 218.0L961.4 223.0L958.0 227.1L955.0 230.0L950.8 233.0L946.5 235.0L942.0 236.2Z" fill="#f28800"/><path d="M944.0 234.0L941.0 234.3L938.0 234.2L927.0 232.6L921.9 231.0L919.9 230.0L918.0 228.6L915.9 226.0L915.1 224.0L914.7 222.0L914.6 219.0L914.8 215.0L915.2 212.0L915.9 209.0L917.0 206.5L918.4 205.0L920.0 204.4L922.0 204.9L923.3 206.0L925.0 208.2L929.0 216.5L931.0 219.5L932.0 220.4L934.0 221.2L936.0 220.8L937.0 220.1L938.0 219.2L939.4 217.0L940.9 213.0L941.4 209.0L941.2 201.0L941.4 197.0L942.4 193.0L943.7 190.0L945.0 188.0L947.0 185.5L951.0 181.9L954.0 180.1L956.0 179.3L958.0 178.8L960.0 178.9L962.0 179.8L964.0 182.0L966.3 186.0L968.4 191.0L969.3 195.0L969.7 199.0L969.4 203.0L968.5 207.0L966.7 212.0L964.2 217.0L961.0 222.0L958.0 225.7L955.0 228.6L951.0 231.5L948.0 232.9L944.0 234.0Z" fill="#f49300"/><path d="M948.0 231.2L944.0 231.8L941.0 231.5L939.7 231.0L938.1 230.0L937.3 229.0L937.0 228.0L937.5 226.0L941.0 219.2L942.5 214.0L942.9 209.0L942.5 199.0L943.0 195.0L943.9 192.0L945.0 189.8L947.0 187.0L949.0 184.9L951.3 183.0L954.0 181.4L957.0 180.5L959.0 180.5L961.0 181.2L963.0 182.9L965.0 185.7L967.1 190.0L968.0 193.0L968.7 197.0L968.8 201.0L968.2 205.0L967.0 209.1L965.0 213.8L963.0 217.4L960.0 221.8L957.0 225.3L954.0 227.9L951.0 229.9L948.0 231.2ZM926.0 227.1L923.5 227.0L921.0 225.8L919.2 224.0L918.0 221.6L917.3 218.0L917.5 214.0L918.4 211.0L919.0 210.0L920.0 209.3L921.0 209.3L922.0 209.8L923.0 210.9L924.2 213.0L926.1 218.0L927.7 223.0L928.0 225.0L927.7 226.0L927.0 226.7L926.0 227.1Z" fill="#f59d00"/><path d="M948.0 229.1L946.0 229.2L944.0 228.7L943.0 227.9L942.4 227.0L942.2 226.0L942.2 224.0L943.7 217.0L944.2 213.0L944.3 209.0L943.7 200.0L944.2 195.0L945.0 192.3L946.1 190.0L948.0 187.4L950.0 185.4L952.0 183.9L955.0 182.4L957.0 182.0L959.0 182.1L961.0 183.0L963.0 184.9L965.0 187.9L966.4 191.0L967.4 194.0L968.0 198.0L968.0 201.0L967.3 205.0L966.0 209.4L964.0 213.8L962.0 217.2L959.0 221.4L956.0 224.6L953.0 227.0L951.0 228.1L948.0 229.1Z" fill="#f7a900"/><path d="M950.0 226.3L948.0 226.3L947.0 226.0L945.9 225.0L945.3 223.0L945.7 212.0L944.9 201.0L945.1 196.0L945.9 193.0L946.8 191.0L948.1 189.0L949.8 187.0L952.0 185.3L954.0 184.2L956.0 183.6L958.0 183.6L960.0 184.2L962.0 185.7L964.0 188.3L965.4 191.0L966.4 194.0L967.0 197.0L967.1 201.0L966.7 204.0L965.6 208.0L964.0 211.7L962.0 215.4L960.0 218.3L958.0 220.8L955.0 223.6L953.0 225.0L950.0 226.3Z" fill="#f9b700"/><path d="M952.0 223.1L950.0 223.2L949.0 222.6L948.0 221.1L947.7 220.0L947.1 210.0L946.1 201.0L946.3 196.0L947.0 193.4L948.0 191.2L949.0 189.7L950.5 188.0L952.0 186.8L954.0 185.7L956.0 185.1L958.0 185.2L960.0 186.0L962.0 187.7L963.6 190.0L964.6 192.0L965.4 194.0L966.0 197.0L966.2 200.0L965.9 203.0L965.2 206.0L964.1 209.0L963.0 211.5L961.0 214.9L959.0 217.6L956.0 220.7L954.0 222.2L952.0 223.1Z" fill="#fbc400"/><path d="M955.0 219.0L953.0 219.8L952.0 219.7L951.0 219.2L950.0 217.8L949.1 214.0L947.8 205.0L947.4 201.0L947.4 198.0L948.1 194.0L949.0 191.9L950.4 190.0L952.0 188.4L954.0 187.2L955.0 186.9L957.0 186.7L958.4 187.0L960.0 187.8L962.0 189.8L963.0 191.3L964.0 193.4L964.8 196.0L965.1 198.0L965.1 201.0L964.1 206.0L962.0 211.0L959.0 215.4L957.0 217.5L955.0 219.0Z" fill="#fcd200"/><path d="M955.0 216.0L954.0 216.2L953.0 215.9L952.0 215.0L951.0 212.9L950.0 209.2L949.0 204.0L948.7 201.0L948.7 198.0L948.9 196.0L949.5 194.0L951.4 191.0L952.4 190.0L954.0 189.0L956.0 188.5L957.0 188.5L958.7 189.0L960.0 189.8L962.0 192.2L962.9 194.0L963.5 196.0L963.9 198.0L964.0 201.0L963.0 205.7L961.0 210.1L958.0 214.0L956.0 215.6L955.0 216.0Z" fill="#fee100"/><path d="M956.0 212.3L955.0 212.5L954.0 212.1L953.0 211.1L952.0 209.2L950.6 204.0L950.1 199.0L950.5 196.0L951.0 194.5L951.9 193.0L953.0 191.7L954.0 191.0L956.0 190.4L957.0 190.5L958.5 191.0L959.8 192.0L960.7 193.0L962.1 196.0L962.7 200.0L962.1 204.0L961.0 207.0L959.0 210.1L957.0 211.9L956.0 212.3Z" fill="#fff000"/><path d="M957.0 208.3L956.0 208.5L955.0 208.2L954.0 207.3L952.8 205.0L951.9 201.0L951.9 198.0L953.0 195.0L954.0 193.8L955.0 193.1L956.0 192.9L957.2 193.0L959.0 194.1L960.3 196.0L961.0 199.0L960.9 202.0L960.0 204.8L959.0 206.5L958.0 207.6L957.0 208.3Z" fill="#fffb00"/></g>
<path d="M853.1 199.9L868.3 209.4M852.9 214.4L868.5 223.4M852.9 228.8L868.5 237.5M852.5 243.8L868.9 251.0M852.5 258.0L868.9 265.3M867.3 171.5L882.6 180.8M867.2 186.0L882.7 194.8M867.0 200.5L882.9 208.8M867.0 214.8L882.9 223.0M867.0 229.1L882.9 237.2M866.7 244.0L883.2 250.8M866.4 258.9L883.5 264.4M866.3 273.6L883.6 278.2M881.5 157.3L896.9 166.5M881.4 171.7L897.0 180.6M881.3 186.3L897.1 194.5M881.2 200.6L897.2 208.7M881.2 214.8L897.2 223.0M881.1 229.4L897.3 236.9M880.9 244.0L897.5 250.8M880.9 258.3L897.5 265.0M880.7 273.1L897.7 278.7M880.9 286.8L897.5 293.5M895.5 143.4L911.4 151.9M895.4 157.9L911.5 165.9M895.3 172.4L911.6 179.9M895.2 187.0L911.7 193.8M895.1 201.5L911.8 207.8M895.1 215.8L911.8 222.0M894.9 230.4L912.0 235.9M894.9 244.6L912.0 250.2M894.8 259.2L912.1 264.1M894.9 273.1L912.0 278.7M895.0 287.2L911.9 293.1M909.2 144.9L926.2 150.4M908.9 160.0L926.5 163.8M908.9 174.7L926.5 177.6M908.8 189.3L926.6 191.5M908.8 203.7L926.6 205.6M908.8 218.1L926.6 219.7M908.8 232.1L926.6 234.2M908.8 246.6L926.6 248.2M908.8 260.9L926.6 262.4M908.8 275.1L926.6 276.7M908.9 288.3L926.5 292.0M923.0 148.1L940.9 147.2M923.1 163.0L940.8 160.8M923.1 177.2L940.8 175.1M923.0 191.1L940.9 189.7M923.0 205.6L940.9 203.7M923.1 220.3L940.8 217.5M923.2 235.2L940.7 231.1M923.2 249.5L940.7 245.3M923.3 264.1L940.6 259.2M923.4 278.7L940.5 273.1M923.3 292.6L940.6 287.7M937.3 148.3L955.1 147.0M937.3 162.6L955.1 161.2M937.3 177.2L955.1 175.1M937.3 190.9L955.1 189.9M937.3 205.1L955.1 204.2M937.3 220.0L955.1 217.8M937.5 235.2L954.9 231.1M937.5 249.5L954.9 245.3M937.6 264.1L954.8 259.2M937.7 278.7L954.7 273.1M951.5 133.7L969.4 133.1M951.5 148.0L969.4 147.3M951.5 162.2L969.4 161.6M951.5 176.5L969.4 175.8M951.5 190.9L969.4 189.9M951.5 205.1L969.4 204.2M951.5 219.4L969.4 218.4M951.5 233.5L969.4 232.8M951.5 247.1L969.4 247.7M951.5 262.0L969.4 261.3M965.8 133.6L983.6 133.2M965.8 147.8L983.6 147.5M965.8 162.2L983.6 161.6M965.8 176.5L983.6 175.8M965.8 190.9L983.6 189.9M965.8 205.1L983.6 204.2M965.8 218.9L983.7 218.9M965.8 232.8L983.6 233.5M965.8 246.2L983.6 248.6M980.0 133.4L997.9 133.4M980.0 148.0L997.9 147.3M980.0 162.7L997.9 161.1M980.0 177.0L997.9 175.3M980.0 191.1L997.9 189.7M980.0 205.3L997.9 204.0M980.0 218.9L997.9 218.9M456.4 552.4L470.2 539.4" stroke="#ffff00" stroke-width="1.25" fill="none" stroke-linecap="butt"/>
<path d="M122.0 302.5C122.7 302.0 124.7 300.4 126.1 299.5C127.5 298.6 128.8 297.7 130.3 297.0C131.8 296.4 133.5 295.9 135.0 295.7C136.6 295.5 138.4 295.6 139.9 296.0C141.5 296.3 143.0 297.0 144.4 297.9C145.8 298.7 147.0 299.8 148.1 301.1C149.2 302.3 150.1 303.7 150.9 305.2C151.7 306.6 152.3 308.2 152.9 309.7C153.5 311.3 154.0 312.9 154.5 314.5C155.1 316.1 155.5 317.7 156.0 319.3C156.4 320.9 156.8 322.5 157.3 324.1C157.7 325.7 158.1 327.4 158.6 329.0C159.0 330.6 159.4 332.2 159.9 333.8C160.4 335.4 160.8 337.2 161.6 338.4C162.4 339.6 163.4 341.0 164.5 341.2C165.5 341.5 166.9 340.7 167.9 339.8C168.9 338.9 169.8 337.3 170.6 335.8C171.4 334.4 172.1 332.8 172.7 331.3C173.4 329.8 174.0 328.2 174.6 326.7C175.2 325.1 175.8 323.5 176.4 322.0C177.0 320.4 177.6 318.8 178.2 317.3C178.8 315.7 179.4 314.2 180.1 312.6C180.7 311.1 181.3 309.6 182.0 308.0C182.7 306.5 183.4 305.0 184.2 303.5C185.0 302.1 185.8 300.6 186.8 299.2C187.7 297.9 188.7 296.4 189.9 295.5C191.1 294.5 192.6 293.6 194.1 293.4C195.5 293.2 197.2 293.5 198.5 294.2C199.9 294.8 201.1 296.1 202.2 297.3C203.3 298.4 204.2 299.9 205.2 301.3C206.2 302.6 207.1 304.0 208.0 305.4C209.0 306.8 210.0 308.1 211.0 309.5C212.0 310.8 213.0 312.1 214.1 313.4C215.2 314.6 216.4 315.8 217.7 316.8C218.9 317.9 220.3 318.9 221.7 319.7C223.2 320.5 224.7 321.2 226.3 321.8C227.8 322.3 229.5 322.7 231.1 323.1C232.7 323.5 234.4 323.8 236.0 324.1C237.6 324.3 239.3 324.6 241.0 324.7C242.6 324.8 244.3 324.8 246.0 324.7C247.6 324.6 249.3 324.4 250.9 324.2C252.6 324.0 254.3 323.7 255.9 323.5C257.6 323.3 259.2 322.9 260.9 322.8C262.5 322.7 264.2 322.5 265.8 322.7C267.4 322.9 269.1 323.2 270.6 323.8C272.1 324.4 273.6 325.3 274.9 326.3C276.2 327.3 277.3 328.5 278.4 329.7C279.5 331.0 280.6 332.3 281.6 333.6C282.6 334.9 283.6 336.3 284.6 337.6C285.5 339.0 286.4 340.4 287.4 341.8C288.4 343.1 289.3 344.6 290.3 345.8C291.4 347.1 292.5 348.4 293.7 349.5C294.9 350.7 296.2 351.7 297.6 352.6C298.9 353.6 300.4 354.4 301.7 355.4C303.1 356.4 304.5 357.3 305.8 358.4C307.0 359.4 308.2 360.6 309.4 361.8C310.7 362.9 311.8 364.1 313.0 365.3C314.1 366.5 315.3 367.7 316.5 368.9C317.6 370.1 318.8 371.3 320.0 372.5C321.2 373.7 322.3 374.9 323.6 376.0C324.8 377.1 326.0 378.3 327.4 379.3C328.7 380.2 330.1 381.2 331.6 381.9C333.0 382.6 334.6 383.3 336.2 383.6C337.8 384.0 339.5 384.1 341.1 384.1C342.7 384.0 344.4 383.8 346.0 383.3C347.6 382.9 349.3 382.4 350.7 381.7C352.1 380.9 353.5 379.9 354.4 378.7C355.3 377.5 355.9 375.9 356.2 374.4C356.5 372.8 356.3 371.1 356.1 369.5C355.9 367.8 355.5 366.2 355.2 364.6C354.8 362.9 354.4 361.3 354.0 359.7C353.7 358.0 353.3 356.4 353.0 354.8C352.6 353.1 352.3 351.5 352.0 349.9C351.7 348.2 351.4 346.6 351.1 344.9C350.8 343.3 350.5 341.6 350.2 340.0C349.9 338.4 349.6 336.7 349.4 335.1C349.1 333.4 348.8 331.7 348.6 330.1C348.4 328.4 348.1 326.8 347.9 325.1C347.7 323.5 347.5 321.8 347.3 320.1C347.2 318.5 347.0 316.8 346.9 315.1C346.8 313.5 346.7 311.8 346.7 310.1C346.6 308.5 346.6 306.8 346.6 305.1C346.6 303.5 346.6 301.8 346.7 300.1C346.8 298.4 346.8 296.8 346.9 295.1C347.1 293.4 347.2 291.8 347.4 290.1C347.6 288.5 347.8 286.8 348.0 285.1C348.3 283.5 348.6 281.8 348.9 280.2C349.3 278.6 349.6 276.9 350.0 275.3C350.4 273.7 350.9 272.1 351.3 270.5C351.8 268.9 352.3 267.3 352.8 265.7C353.3 264.1 353.8 262.5 354.4 260.9C355.0 259.4 355.6 257.8 356.3 256.3C356.9 254.7 357.6 253.2 358.4 251.7C359.1 250.2 359.9 248.8 360.7 247.3C361.4 245.8 362.2 244.3 363.0 242.8C363.8 241.4 364.5 239.9 365.3 238.4C366.0 236.9 366.7 235.4 367.5 233.9C368.2 232.3 368.9 230.8 369.6 229.3C370.4 227.8 371.1 226.3 372.0 224.9C372.8 223.5 373.7 222.0 374.6 220.7C375.6 219.3 376.6 218.0 377.8 216.8C378.9 215.6 380.2 214.4 381.6 213.7C382.9 213.0 384.5 212.6 386.0 212.7C387.5 212.8 389.1 213.5 390.4 214.4C391.7 215.2 392.9 216.5 393.8 217.8C394.8 219.1 395.5 220.6 396.2 222.2C396.8 223.7 397.3 225.3 397.7 226.9C398.2 228.5 398.5 230.2 398.8 231.8C399.1 233.4 399.3 235.1 399.6 236.7C399.8 238.4 400.0 240.1 400.1 241.7C400.3 243.4 400.4 245.1 400.5 246.7C400.6 248.4 400.7 250.1 400.7 251.7C400.8 253.4 400.9 255.1 401.0 256.7C401.2 258.4 401.3 260.1 401.6 261.7C401.8 263.4 402.0 265.1 402.4 266.6C402.9 268.2 403.3 269.9 404.1 271.2C404.9 272.6 406.1 273.9 407.3 274.6C408.6 275.3 410.3 275.5 411.8 275.4C413.3 275.3 414.9 274.6 416.4 274.0C417.9 273.4 419.4 272.4 420.9 271.7C422.4 271.0 423.8 270.2 425.4 269.5C426.9 268.8 428.4 268.2 430.0 267.6C431.6 267.1 433.2 266.5 434.8 266.1C436.4 265.6 438.0 265.2 439.6 264.8C441.2 264.5 442.9 264.2 444.5 263.9C446.2 263.5 447.8 263.2 449.4 262.7C450.9 262.2 452.5 261.5 453.9 260.6C455.2 259.7 456.4 258.6 457.3 257.3C458.3 256.0 458.9 254.4 459.4 252.9C459.9 251.3 460.2 249.6 460.5 248.0C460.7 246.3 460.9 244.7 461.1 243.0C461.3 241.4 461.4 239.7 461.6 238.0C461.8 236.4 462.0 234.7 462.2 233.1C462.5 231.4 462.7 229.8 463.0 228.1C463.3 226.5 463.6 224.8 464.0 223.2C464.4 221.6 464.8 219.9 465.3 218.4C465.8 216.8 466.4 215.2 467.1 213.7C467.9 212.3 468.7 210.7 469.8 209.6C470.9 208.6 472.4 207.5 473.7 207.3C475.1 207.0 476.8 207.2 478.1 207.9C479.4 208.5 480.6 209.8 481.5 211.1C482.4 212.4 483.0 214.0 483.6 215.6C484.1 217.1 484.4 218.8 484.7 220.4C484.9 222.1 485.0 223.8 485.1 225.4C485.1 227.1 485.0 228.8 484.9 230.4C484.7 232.1 484.5 233.7 484.2 235.4C483.9 237.0 483.5 238.6 483.1 240.3C482.7 241.9 482.2 243.5 481.7 245.1C481.2 246.7 480.6 248.2 480.0 249.8C479.5 251.4 478.9 252.9 478.3 254.5C477.7 256.1 477.0 257.6 476.4 259.2C475.9 260.7 475.3 262.3 474.9 263.9C474.5 265.5 474.2 267.2 473.9 268.8C473.7 270.5 473.6 272.1 473.6 273.8C473.6 275.5 473.7 277.1 473.9 278.8C474.1 280.4 474.4 282.1 474.8 283.7C475.3 285.3 475.8 286.9 476.4 288.5C477.0 290.0 477.6 291.6 478.4 293.0C479.1 294.5 479.9 296.0 480.9 297.4C481.8 298.7 482.8 300.1 483.9 301.3C485.0 302.6 486.1 303.8 487.3 305.0C488.6 306.1 489.9 307.1 491.2 308.1C492.6 309.0 494.1 309.8 495.6 310.5C497.1 311.2 498.6 311.9 500.2 312.3C501.8 312.8 503.5 313.1 505.1 313.3C506.7 313.4 508.4 313.5 510.1 313.3C511.7 313.1 513.3 312.7 514.8 312.1C516.4 311.5 517.8 310.6 519.2 309.7C520.5 308.8 521.8 307.6 523.0 306.5C524.2 305.3 525.3 304.1 526.5 302.9C527.6 301.6 528.7 300.3 529.7 299.1C530.8 297.8 531.8 296.4 532.8 295.1C533.8 293.8 534.8 292.4 535.8 291.1C536.7 289.7 537.7 288.3 538.6 286.9C539.6 285.6 540.5 284.2 541.4 282.8C542.4 281.4 543.4 280.1 544.4 278.7C545.4 277.4 546.4 276.1 547.5 274.8C548.6 273.6 549.7 272.3 550.9 271.1C552.1 270.0 553.3 268.8 554.6 267.8C556.0 266.9 557.4 266.0 558.9 265.4C560.4 264.8 562.1 264.3 563.7 264.2C565.2 264.1 566.9 264.3 568.4 264.9C569.9 265.4 571.4 266.3 572.6 267.3C573.7 268.4 574.7 269.8 575.5 271.2C576.4 272.6 577.0 274.2 577.5 275.8C578.0 277.4 578.4 279.0 578.7 280.6C579.0 282.3 579.1 283.9 579.3 285.6C579.4 287.3 579.5 288.9 579.5 290.6C579.4 292.3 579.4 293.9 579.3 295.6C579.1 297.3 579.0 298.9 578.8 300.6C578.5 302.3 578.3 303.9 578.0 305.6C577.7 307.2 577.4 308.8 577.0 310.5C576.6 312.1 576.2 313.7 575.7 315.3C575.3 316.9 574.7 318.5 574.1 320.1C573.5 321.6 572.9 323.2 572.2 324.7C571.5 326.2 570.7 327.7 569.8 329.1C569.0 330.5 568.1 331.9 567.1 333.2C566.1 334.6 564.9 335.8 563.7 336.9C562.5 338.1 561.2 339.1 559.8 340.0C558.4 340.8 556.9 341.6 555.3 342.2C553.8 342.7 552.1 343.0 550.5 343.5C549.0 344.0 547.2 344.2 545.9 345.0C544.6 345.8 543.4 346.9 542.7 348.3C541.9 349.6 541.6 351.3 541.5 352.9C541.3 354.4 541.6 356.2 541.9 357.8C542.2 359.4 542.8 361.0 543.4 362.5C544.0 364.1 544.7 365.6 545.4 367.1C546.2 368.6 547.0 370.1 547.8 371.5C548.6 373.0 549.4 374.4 550.2 375.9C551.0 377.4 551.9 378.8 552.7 380.3C553.5 381.7 554.2 383.2 555.0 384.7C555.7 386.2 556.5 387.7 557.2 389.2C557.9 390.7 558.6 392.3 559.2 393.8C559.8 395.4 560.3 397.0 560.8 398.6C561.3 400.2 561.7 401.8 562.0 403.4C562.4 405.0 562.7 406.7 563.0 408.3C563.2 410.0 563.4 411.6 563.6 413.3C563.8 415.0 563.9 416.6 564.0 418.3C564.1 420.0 564.2 421.6 564.2 423.3C564.2 425.0 564.2 426.7 564.2 428.3C564.1 430.0 564.1 431.7 563.9 433.3C563.8 435.0 563.7 436.7 563.5 438.3C563.3 440.0 563.1 441.6 562.9 443.3C562.7 445.0 562.5 446.6 562.2 448.3C562.0 449.9 561.8 451.6 561.5 453.2C561.3 454.9 561.0 456.5 560.8 458.2C560.5 459.9 560.3 461.5 560.1 463.2C559.9 464.8 559.7 466.5 559.6 468.2C559.4 469.8 559.3 471.5 559.2 473.2C559.0 474.8 558.9 476.5 558.9 478.2C558.8 479.8 558.7 481.5 558.7 483.2C558.7 484.8 558.6 486.5 558.7 488.2C558.7 489.9 558.7 491.5 558.9 493.2C559.0 494.9 559.1 496.5 559.5 498.2C559.8 499.8 560.1 501.5 560.8 502.9C561.4 504.4 562.2 505.9 563.3 507.0C564.4 508.2 565.8 509.1 567.2 510.0C568.6 510.8 570.2 511.4 571.7 512.2C573.2 513.0 574.7 513.8 576.1 514.6C577.5 515.5 578.9 516.4 580.2 517.5C581.5 518.5 582.7 519.7 583.7 521.0C584.8 522.2 585.7 523.6 586.6 525.0C587.4 526.5 588.1 528.0 588.8 529.5C589.4 531.1 589.9 532.7 590.4 534.3C590.8 535.9 591.2 537.5 591.6 539.1C591.9 540.7 592.3 542.4 592.5 544.0C592.8 545.7 593.0 547.3 593.2 549.0C593.4 550.7 593.5 552.3 593.5 554.0C593.5 555.7 593.5 557.3 593.4 559.0C593.3 560.7 593.1 562.3 593.0 564.0C592.8 565.7 592.6 567.3 592.3 569.0C592.1 570.6 591.8 572.3 591.5 573.9C591.3 575.6 591.0 577.2 590.6 578.9C590.3 580.5 589.9 582.1 589.5 583.7C589.1 585.4 588.6 587.0 588.2 588.6C587.7 590.2 587.1 591.8 586.6 593.3C586.0 594.9 585.5 596.5 584.9 598.0C584.2 599.6 583.6 601.1 582.9 602.7C582.2 604.2 581.5 605.7 580.8 607.2C580.0 608.7 579.2 610.1 578.3 611.6C577.5 613.0 576.6 614.4 575.6 615.8C574.6 617.1 573.6 618.4 572.5 619.7C571.3 620.9 570.1 622.0 568.8 623.0C567.5 624.0 566.1 624.9 564.6 625.5C563.1 626.2 561.4 626.7 559.8 626.8C558.2 626.9 556.5 626.8 555.0 626.4C553.5 625.9 552.1 625.0 550.8 624.1C549.5 623.1 548.3 621.8 547.2 620.6C546.1 619.4 545.1 618.0 544.1 616.7C543.1 615.3 542.2 613.9 541.2 612.6C540.2 611.2 539.3 609.7 538.2 608.6C537.1 607.5 535.9 606.3 534.5 605.7C533.1 605.2 531.5 605.1 530.0 605.4C528.5 605.7 527.0 606.5 525.5 607.4C524.1 608.2 522.8 609.3 521.5 610.3C520.2 611.3 518.9 612.4 517.6 613.4C516.3 614.5 514.9 615.5 513.6 616.4C512.2 617.4 510.8 618.3 509.4 619.1C507.9 620.0 506.5 620.8 505.0 621.5C503.5 622.3 501.9 622.9 500.4 623.5C498.8 624.1 497.2 624.6 495.6 625.0C494.0 625.4 492.3 625.7 490.7 626.0C489.1 626.3 487.4 626.4 485.7 626.7C484.1 627.0 482.5 627.4 480.8 627.7C479.2 628.1 477.6 628.6 476.0 629.0C474.4 629.5 472.8 630.0 471.2 630.4C469.6 630.9 468.0 631.4 466.4 631.8C464.7 632.3 463.1 632.7 461.5 633.1C459.9 633.5 458.2 633.8 456.6 634.0C454.9 634.2 453.3 634.3 451.6 634.2C450.0 634.2 448.3 634.0 446.6 633.7C445.0 633.4 443.4 633.1 441.8 632.6C440.2 632.1 438.6 631.6 437.1 630.8C435.7 630.1 434.2 629.2 433.0 628.2C431.7 627.1 430.6 625.9 429.6 624.5C428.7 623.2 428.0 621.7 427.4 620.2C426.7 618.6 426.3 617.0 425.8 615.4C425.4 613.8 425.0 612.2 424.6 610.5C424.1 608.9 423.8 607.3 423.4 605.7C423.0 604.0 422.6 602.4 422.2 600.8C421.8 599.2 421.3 597.6 420.9 596.0C420.4 594.3 420.0 592.7 419.5 591.1C419.0 589.6 418.5 588.0 417.9 586.4C417.3 584.8 416.6 583.3 415.9 581.8C415.1 580.3 414.3 578.8 413.3 577.6C412.3 576.3 411.1 575.0 409.8 574.2C408.5 573.3 406.9 572.7 405.3 572.5C403.8 572.2 402.1 572.4 400.5 572.6C398.8 572.9 397.2 573.4 395.7 574.0C394.1 574.5 392.6 575.2 391.1 576.0C389.6 576.8 388.3 577.7 386.8 578.5C385.3 579.3 383.9 580.3 382.4 580.7C380.9 581.0 379.2 581.2 377.8 580.8C376.3 580.4 374.8 579.5 373.7 578.4C372.5 577.4 371.5 576.0 370.7 574.6C369.8 573.2 369.2 571.6 368.6 570.1C367.9 568.5 367.3 566.9 366.8 565.4C366.2 563.8 365.6 562.2 365.1 560.6C364.6 559.1 364.1 557.4 363.5 555.9C362.9 554.4 362.4 552.6 361.5 551.6C360.6 550.6 359.4 549.9 358.4 550.1C357.3 550.3 356.3 551.7 355.5 553.0C354.7 554.2 354.2 556.0 353.7 557.5C353.2 559.1 352.8 560.7 352.4 562.4C352.0 564.0 351.6 565.6 351.2 567.2C350.9 568.9 350.5 570.5 350.2 572.1C349.8 573.8 349.5 575.4 349.2 577.1C348.8 578.7 348.5 580.3 348.2 582.0C347.8 583.6 347.4 585.2 347.0 586.9C346.6 588.5 346.2 590.1 345.7 591.7C345.2 593.3 344.8 594.9 344.2 596.5C343.7 598.1 343.1 599.6 342.4 601.2C341.7 602.7 341.0 604.2 340.2 605.6C339.3 607.0 338.3 608.5 337.1 609.4C335.9 610.4 334.5 611.2 333.0 611.5C331.5 611.8 329.8 611.5 328.3 611.1C326.8 610.6 325.3 609.8 323.8 609.0C322.4 608.2 321.0 607.2 319.6 606.2C318.3 605.3 316.9 604.3 315.6 603.3C314.3 602.3 313.0 601.2 311.7 600.2C310.4 599.1 309.1 598.1 307.8 597.0C306.5 595.9 305.3 594.8 304.1 593.6C302.8 592.5 301.6 591.4 300.4 590.2C299.2 589.0 298.1 587.8 297.0 586.6C295.8 585.3 294.7 584.0 293.7 582.8C292.6 581.5 291.6 580.1 290.7 578.8C289.7 577.4 288.7 576.0 287.8 574.6C286.9 573.2 286.0 571.8 285.1 570.4C284.3 569.0 283.4 567.5 282.6 566.1C281.7 564.7 280.8 563.2 280.0 561.8C279.1 560.4 278.2 558.9 277.3 557.5C276.4 556.1 275.5 554.7 274.5 553.4C273.5 552.1 272.4 550.9 271.1 549.9C269.8 548.9 268.3 548.0 266.8 547.4C265.3 546.9 263.6 546.6 262.0 546.4C260.4 546.2 258.7 546.2 257.0 546.2C255.3 546.2 253.7 546.2 252.0 546.2C250.3 546.2 248.7 546.3 247.0 546.3C245.3 546.3 243.6 546.3 242.0 546.3C240.3 546.3 238.6 546.2 237.0 546.0C235.3 545.9 233.6 545.7 232.0 545.4C230.4 545.1 228.7 544.7 227.2 544.2C225.6 543.6 224.1 542.9 222.7 542.1C221.2 541.3 219.9 540.3 218.6 539.2C217.3 538.1 216.1 537.0 215.0 535.8C213.8 534.6 212.7 533.3 211.6 532.1C210.5 530.8 209.4 529.5 208.3 528.3C207.2 527.0 206.2 525.7 205.1 524.4C204.0 523.2 202.9 521.9 201.9 520.6C200.8 519.3 199.7 518.0 198.7 516.7C197.6 515.4 196.6 514.1 195.6 512.8C194.6 511.4 193.6 510.1 192.7 508.7C191.7 507.3 190.8 506.0 189.8 504.6C188.9 503.2 188.0 501.8 187.1 500.3C186.2 498.9 185.3 497.5 184.5 496.1C183.6 494.6 182.8 493.2 182.0 491.7C181.1 490.3 180.3 488.8 179.5 487.4C178.7 485.9 177.9 484.5 177.1 483.0C176.2 481.5 175.4 480.1 174.6 478.6C173.8 477.2 172.9 475.7 172.1 474.3C171.3 472.8 170.4 471.4 169.6 469.9C168.8 468.5 167.9 467.0 167.1 465.6C166.2 464.2 165.4 462.7 164.5 461.3C163.7 459.8 162.8 458.4 161.9 457.0C161.0 455.6 160.1 454.2 159.2 452.8C158.4 451.3 157.5 449.9 156.7 448.4C155.9 447.0 155.1 445.5 154.4 444.0C153.7 442.5 153.0 441.0 152.3 439.4C151.7 437.9 151.1 436.3 150.5 434.7C150.0 433.2 149.4 431.6 148.9 430.0C148.5 428.4 148.0 426.8 147.6 425.1C147.3 423.5 146.9 421.9 146.6 420.2C146.3 418.6 146.1 416.9 145.8 415.3C145.6 413.6 145.3 412.0 145.0 410.3C144.8 408.7 144.5 407.0 144.3 405.4C144.0 403.7 143.7 402.1 143.3 400.5C142.9 398.9 142.4 397.2 141.7 395.8C140.9 394.3 140.0 393.0 138.9 391.8C137.8 390.6 136.4 389.6 135.0 388.7C133.6 387.8 132.1 387.1 130.6 386.5C129.1 385.8 127.4 385.4 126.0 384.9C124.6 384.4 122.7 383.9 122.0 383.7M122.0 326.5C122.6 325.8 124.4 323.6 125.8 322.3C127.1 321.0 128.4 319.5 130.0 318.8C131.5 318.2 133.5 318.0 135.1 318.5C136.6 319.0 138.1 320.4 139.3 321.7C140.4 323.1 141.2 324.9 141.9 326.6C142.6 328.4 143.0 330.2 143.4 332.1C143.8 333.9 144.1 335.8 144.2 337.6C144.3 339.5 144.4 341.4 144.3 343.3C144.2 345.1 144.0 347.0 143.6 348.9C143.3 350.7 142.8 352.6 142.2 354.3C141.5 356.1 140.8 357.8 139.8 359.4C138.8 360.9 137.6 362.6 136.2 363.5C134.7 364.5 132.9 365.1 131.2 365.2C129.5 365.2 127.5 364.3 126.0 363.7C124.5 363.1 122.7 361.9 122.0 361.5M161.7 405.0C161.9 403.3 162.1 401.7 162.5 400.0C162.8 398.4 163.3 396.8 163.8 395.2C164.3 393.6 164.9 392.0 165.5 390.4C166.2 388.9 166.9 387.4 167.6 385.9C168.4 384.4 169.2 382.9 170.0 381.4C170.8 379.9 171.6 378.5 172.5 377.1C173.4 375.6 174.3 374.2 175.3 372.8C176.2 371.4 177.2 370.1 178.2 368.7C179.2 367.4 180.3 366.1 181.4 364.8C182.5 363.5 183.6 362.3 184.8 361.1C186.0 360.0 187.3 358.8 188.6 357.8C189.9 356.7 191.2 355.7 192.6 354.7C194.0 353.7 195.4 352.8 196.8 352.0C198.3 351.2 199.8 350.4 201.3 349.8C202.9 349.1 204.5 348.5 206.1 348.0C207.6 347.4 209.2 346.9 210.9 346.4C212.5 346.0 214.1 345.5 215.7 345.1C217.4 344.7 219.0 344.3 220.6 344.0C222.3 343.6 223.9 343.3 225.6 342.9C227.2 342.6 228.9 342.2 230.5 341.9C232.2 341.5 233.8 341.2 235.5 340.9C237.1 340.5 238.7 340.2 240.4 339.9C242.0 339.5 243.7 339.2 245.3 338.8C247.0 338.5 248.6 338.2 250.3 338.0C252.0 337.7 253.6 337.5 255.3 337.5C257.0 337.4 258.7 337.5 260.3 337.8C261.9 338.1 263.6 338.5 265.1 339.2C266.6 339.9 268.0 340.8 269.3 341.8C270.6 342.8 271.8 344.1 272.9 345.3C274.1 346.5 275.2 347.7 276.3 349.0C277.4 350.3 278.5 351.5 279.6 352.8C280.7 354.1 281.8 355.3 283.0 356.6C284.1 357.8 285.3 359.0 286.6 360.1C287.8 361.2 289.1 362.3 290.5 363.3C291.8 364.3 293.2 365.3 294.6 366.1C296.1 367.0 297.6 367.7 299.1 368.5C300.5 369.3 302.1 369.9 303.5 370.8C305.0 371.6 306.4 372.6 307.7 373.6C309.0 374.7 310.2 375.9 311.3 377.1C312.4 378.3 313.5 379.7 314.5 381.0C315.4 382.4 316.3 383.8 317.2 385.2C318.1 386.7 318.9 388.2 319.7 389.6C320.5 391.1 321.3 392.6 322.1 394.1C322.8 395.6 323.5 397.1 324.3 398.6C325.0 400.1 325.7 401.7 326.5 403.1C327.4 404.5 328.5 405.8 329.6 407.0C330.8 408.1 332.2 409.1 333.6 410.0C335.0 410.9 336.5 411.6 338.1 412.4C339.6 413.1 341.1 413.7 342.7 414.3C344.3 414.9 345.9 415.4 347.5 416.0C349.0 416.6 350.6 417.2 352.1 417.8C353.7 418.5 355.2 419.2 356.7 419.9C358.2 420.6 359.8 421.4 361.2 422.2C362.7 423.1 364.1 423.9 365.5 424.9C366.9 425.8 368.2 426.9 369.5 427.9C370.9 428.9 372.2 430.0 373.5 431.1C374.8 432.1 376.0 433.3 377.3 434.4C378.6 435.5 379.8 436.6 381.1 437.6C382.5 438.6 383.9 439.7 385.4 440.1C386.8 440.6 388.5 440.8 390.0 440.5C391.4 440.2 392.9 439.3 394.2 438.3C395.5 437.3 396.6 436.0 397.7 434.7C398.7 433.4 399.7 432.0 400.6 430.6C401.5 429.1 402.3 427.7 403.1 426.2C403.8 424.7 404.5 423.2 405.1 421.6C405.6 420.0 406.1 418.4 406.4 416.7C406.8 415.1 407.1 413.4 407.2 411.8C407.4 410.1 407.3 408.4 407.2 406.8C407.1 405.1 406.8 403.4 406.4 401.8C405.9 400.2 405.4 398.6 404.7 397.1C404.0 395.6 402.9 394.4 402.0 393.0C401.1 391.6 400.1 390.3 399.3 388.8C398.5 387.3 397.9 385.7 397.2 384.2C396.6 382.6 396.0 381.1 395.4 379.5C394.7 378.0 394.1 376.4 393.5 374.8C392.8 373.3 392.2 371.7 391.5 370.2C390.9 368.6 390.2 367.1 389.4 365.6C388.7 364.1 387.9 362.6 387.1 361.1C386.2 359.7 385.3 358.3 384.4 356.9C383.5 355.4 382.5 354.1 381.6 352.7C380.6 351.3 379.6 350.0 378.6 348.6C377.6 347.3 376.6 345.9 375.5 344.6C374.5 343.3 373.4 342.0 372.4 340.7C371.4 339.3 370.3 338.0 369.4 336.6C368.4 335.2 367.5 333.8 366.7 332.3C365.9 330.9 365.2 329.3 364.6 327.8C363.9 326.3 363.3 324.7 362.8 323.1C362.3 321.5 361.8 319.9 361.4 318.2C361.0 316.6 360.7 315.0 360.4 313.3C360.2 311.6 360.0 310.0 359.9 308.3C359.8 306.6 359.8 304.9 359.9 303.2C359.9 301.6 360.0 299.9 360.2 298.2C360.4 296.5 360.7 294.9 361.0 293.2C361.3 291.6 361.7 289.9 362.1 288.3C362.5 286.7 363.0 285.1 363.4 283.5C363.9 281.8 364.4 280.2 365.0 278.7C365.5 277.1 366.1 275.5 366.7 273.9C367.4 272.4 368.0 270.8 368.7 269.3C369.4 267.8 370.2 266.3 371.1 264.9C372.0 263.5 373.0 262.0 374.1 260.9C375.3 259.7 376.6 258.4 377.9 258.0C379.1 257.5 380.6 257.6 381.6 258.4C382.5 259.1 383.0 260.9 383.5 262.4C384.0 263.9 384.1 265.7 384.4 267.3C384.7 269.0 384.9 270.7 385.1 272.3C385.4 274.0 385.7 275.7 386.0 277.3C386.3 279.0 386.6 280.6 386.9 282.3C387.3 283.9 387.6 285.5 388.1 287.2C388.5 288.8 389.0 290.4 389.6 292.0C390.2 293.6 390.7 295.2 391.5 296.6C392.2 298.1 393.0 299.7 394.0 300.9C395.1 302.2 396.3 303.5 397.7 304.0C399.0 304.6 400.6 304.6 402.0 304.1C403.4 303.7 404.8 302.5 406.1 301.5C407.4 300.5 408.5 299.2 409.7 298.1C410.9 296.9 412.1 295.6 413.3 294.4C414.4 293.3 415.6 292.1 416.9 291.0C418.2 289.9 419.5 288.8 420.9 287.9C422.2 286.9 423.7 286.0 425.2 285.3C426.7 284.5 428.2 283.9 429.8 283.4C431.4 283.0 433.1 282.6 434.7 282.5C436.4 282.4 438.1 282.5 439.7 282.8C441.3 283.0 443.0 283.5 444.5 284.1C446.1 284.7 447.6 285.4 449.0 286.3C450.5 287.1 451.9 288.1 453.2 289.1C454.6 290.1 455.8 291.2 457.1 292.3C458.3 293.5 459.5 294.7 460.6 295.9C461.8 297.1 462.8 298.4 463.9 299.7C465.0 301.0 466.1 302.3 467.2 303.5C468.3 304.8 469.4 306.1 470.5 307.4C471.6 308.6 472.7 309.9 473.8 311.2C474.9 312.4 476.1 313.7 477.2 314.9C478.4 316.1 479.6 317.2 480.9 318.4C482.1 319.5 483.4 320.6 484.6 321.7C485.9 322.8 487.2 323.9 488.5 325.0C489.8 326.0 491.2 327.0 492.5 328.1C493.8 329.1 495.2 330.1 496.5 331.1C497.8 332.2 499.1 333.2 500.3 334.4C501.6 335.5 502.8 336.7 503.9 337.9C505.0 339.2 506.1 340.5 507.1 341.8C508.2 343.1 509.1 344.5 510.1 345.9C511.0 347.3 511.8 348.8 512.6 350.3C513.4 351.7 514.2 353.2 514.9 354.7C515.6 356.3 516.3 357.8 517.0 359.4C517.6 360.9 518.2 362.5 518.9 364.0C519.5 365.6 520.2 367.1 520.8 368.7C521.5 370.2 522.2 371.7 522.9 373.3C523.6 374.8 524.3 376.3 525.1 377.8C525.8 379.3 526.6 380.8 527.4 382.3C528.2 383.8 529.0 385.3 529.8 386.7C530.7 388.2 531.6 389.6 532.5 391.0C533.4 392.4 534.4 393.8 535.4 395.2C536.3 396.6 537.2 397.9 538.2 399.3C539.1 400.8 540.0 402.1 540.9 403.6C541.8 405.0 542.6 406.5 543.3 408.0C544.1 409.5 544.8 411.0 545.4 412.6C546.0 414.1 546.6 415.7 547.1 417.3C547.6 418.9 548.1 420.6 548.5 422.2C548.8 423.8 549.1 425.5 549.4 427.1C549.7 428.8 549.9 430.5 550.1 432.1C550.3 433.8 550.5 435.5 550.6 437.2C550.7 438.8 550.8 440.5 550.9 442.2C550.9 443.9 551.0 445.6 551.0 447.2C551.1 448.9 551.2 450.6 551.2 452.3C551.3 454.0 551.3 455.6 551.4 457.3C551.4 459.0 551.5 460.7 551.5 462.4C551.5 464.0 551.6 465.7 551.6 467.4C551.6 469.1 551.7 470.8 551.7 472.5C551.7 474.1 551.7 475.8 551.7 477.5C551.7 479.2 551.7 480.9 551.7 482.5C551.7 484.2 551.7 485.9 551.7 487.6C551.7 489.3 551.7 491.0 551.7 492.6C551.7 494.3 551.8 496.0 551.8 497.7C551.9 499.4 551.9 501.0 552.0 502.7C552.1 504.4 552.2 506.1 552.3 507.8C552.4 509.4 552.5 511.1 552.7 512.8C552.9 514.5 553.0 516.1 553.3 517.8C553.7 519.4 553.9 521.1 554.5 522.7C555.1 524.2 555.8 525.8 556.9 526.9C558.0 527.9 559.5 528.6 560.9 529.0C562.4 529.4 564.2 529.1 565.9 529.1C567.5 529.1 569.2 528.7 570.8 529.0C572.3 529.4 573.8 530.0 575.0 531.0C576.2 532.0 577.2 533.4 578.1 534.8C579.0 536.2 579.7 537.8 580.4 539.3C581.1 540.8 581.7 542.4 582.3 544.0C582.8 545.6 583.3 547.2 583.7 548.8C584.0 550.4 584.3 552.1 584.6 553.8C584.8 555.4 584.9 557.1 584.9 558.8C585.0 560.5 584.9 562.1 584.8 563.8C584.8 565.5 584.6 567.2 584.4 568.8C584.2 570.5 583.9 572.2 583.6 573.8C583.3 575.5 582.9 577.1 582.5 578.7C582.1 580.4 581.6 582.0 581.1 583.6C580.5 585.2 579.9 586.7 579.3 588.3C578.6 589.8 577.9 591.3 577.1 592.8C576.3 594.3 575.5 595.8 574.5 597.2C573.6 598.5 572.6 599.9 571.5 601.2C570.4 602.4 569.2 603.6 567.9 604.6C566.6 605.6 565.1 606.6 563.6 607.1C562.1 607.7 560.4 608.0 558.9 607.9C557.3 607.7 555.7 607.1 554.4 606.3C553.0 605.5 551.9 604.2 550.8 602.9C549.7 601.6 548.9 600.2 548.0 598.7C547.1 597.3 546.4 595.8 545.5 594.4C544.6 592.9 543.8 591.4 542.7 590.3C541.5 589.2 540.1 588.2 538.7 587.9C537.2 587.6 535.6 588.0 534.1 588.5C532.6 589.0 531.1 590.1 529.7 590.9C528.3 591.8 526.9 592.8 525.6 593.8C524.2 594.8 522.9 595.8 521.5 596.8C520.2 597.8 518.9 598.9 517.5 599.9C516.1 600.8 514.8 601.8 513.4 602.8C512.0 603.7 510.6 604.6 509.1 605.5C507.7 606.3 506.2 607.2 504.7 607.9C503.2 608.6 501.7 609.3 500.1 609.9C498.5 610.4 496.9 610.9 495.3 611.3C493.6 611.7 492.0 612.0 490.3 612.3C488.7 612.5 487.0 612.7 485.3 612.9C483.6 613.1 482.0 613.3 480.3 613.5C478.6 613.7 476.9 613.8 475.3 614.0C473.6 614.1 471.9 614.3 470.2 614.4C468.6 614.4 466.9 614.5 465.2 614.5C463.5 614.4 461.8 614.4 460.2 614.2C458.5 614.0 456.8 613.8 455.2 613.4C453.6 613.0 451.9 612.6 450.4 612.0C448.8 611.4 447.3 610.7 445.8 609.9C444.4 609.1 443.0 608.1 441.7 607.1C440.4 606.0 439.2 604.9 438.0 603.6C436.8 602.4 435.7 601.2 434.7 599.8C433.7 598.5 432.8 597.1 431.9 595.7C431.0 594.2 430.2 592.7 429.5 591.2C428.7 589.8 427.9 588.2 427.2 586.7C426.5 585.2 425.7 583.7 425.0 582.2C424.3 580.7 423.6 579.1 422.9 577.6C422.2 576.1 421.6 574.5 420.9 573.0C420.2 571.5 419.5 569.9 418.8 568.4C418.0 566.9 417.4 565.3 416.5 563.9C415.6 562.5 414.7 561.0 413.5 560.0C412.3 559.0 410.8 558.2 409.3 557.7C407.8 557.3 406.1 557.3 404.4 557.1C402.7 557.0 401.0 557.0 399.4 556.8C397.7 556.7 396.0 556.5 394.4 556.1C392.8 555.7 391.1 555.3 389.6 554.6C388.1 553.9 386.7 553.0 385.5 551.9C384.2 550.8 383.2 549.5 382.2 548.2C381.3 546.8 380.5 545.3 379.8 543.8C379.1 542.2 378.5 540.6 378.0 539.1C377.5 537.5 377.1 535.8 376.6 534.2C376.2 532.6 375.9 530.9 375.5 529.3C375.1 527.7 374.7 526.0 374.3 524.4C373.8 522.8 373.4 521.1 373.0 519.5C372.5 517.9 372.1 516.3 371.5 514.7C370.9 513.2 370.3 511.5 369.3 510.2C368.4 508.9 367.3 507.6 366.0 506.7C364.7 505.8 363.0 505.3 361.5 504.9C359.9 504.5 358.2 504.5 356.5 504.4C354.8 504.4 353.1 504.5 351.5 504.6C349.8 504.7 348.1 505.0 346.4 505.2C344.8 505.4 343.1 505.6 341.5 505.9C339.8 506.3 338.1 506.6 336.6 507.2C335.1 507.8 333.5 508.5 332.3 509.5C331.0 510.5 330.0 511.9 329.2 513.3C328.4 514.7 327.9 516.3 327.5 517.9C327.2 519.6 327.0 521.3 326.8 522.9C326.7 524.6 326.6 526.3 326.6 528.0C326.5 529.6 326.5 531.3 326.6 533.0C326.7 534.7 326.8 536.4 327.0 538.0C327.1 539.7 327.4 541.3 327.7 543.0C328.0 544.7 328.4 546.3 328.6 548.0C328.9 549.6 329.1 551.3 329.2 553.0C329.3 554.6 329.2 556.3 329.1 558.0C329.0 559.7 328.8 561.4 328.4 562.9C328.0 564.5 327.4 566.2 326.5 567.4C325.5 568.5 324.1 569.4 322.7 569.7C321.3 570.0 319.5 569.7 317.9 569.3C316.4 569.0 314.8 568.2 313.2 567.6C311.7 566.9 310.2 566.1 308.7 565.3C307.3 564.5 305.8 563.6 304.5 562.6C303.1 561.7 301.7 560.7 300.5 559.6C299.2 558.5 298.0 557.3 296.9 556.0C295.7 554.8 294.7 553.5 293.7 552.2C292.6 550.9 291.6 549.5 290.6 548.2C289.5 546.9 288.5 545.5 287.4 544.2C286.4 542.9 285.3 541.6 284.2 540.3C283.1 539.1 282.1 537.8 280.9 536.6C279.7 535.4 278.5 534.2 277.1 533.2C275.8 532.2 274.4 531.3 272.9 530.6C271.4 529.9 269.8 529.3 268.2 528.8C266.6 528.4 264.9 528.1 263.3 527.8C261.6 527.5 259.9 527.4 258.3 527.1C256.6 526.8 255.0 526.5 253.3 526.1C251.7 525.7 250.1 525.1 248.6 524.6C247.0 524.0 245.4 523.3 243.9 522.6C242.3 522.0 240.8 521.3 239.3 520.5C237.8 519.8 236.3 519.0 234.8 518.2C233.4 517.4 231.9 516.6 230.5 515.7C229.0 514.8 227.6 513.9 226.2 512.9C224.9 512.0 223.5 510.9 222.2 509.9C220.9 508.9 219.6 507.8 218.4 506.6C217.1 505.5 215.9 504.3 214.8 503.1C213.7 501.8 212.7 500.5 211.7 499.1C210.8 497.7 209.9 496.3 209.1 494.8C208.3 493.3 207.5 491.8 206.8 490.3C206.1 488.8 205.4 487.2 204.8 485.7C204.1 484.1 203.6 482.6 202.9 481.0C202.3 479.4 201.7 477.9 200.9 476.4C200.2 474.9 199.3 473.4 198.3 472.1C197.4 470.7 196.2 469.5 195.1 468.3C193.9 467.1 192.6 466.0 191.4 464.9C190.1 463.8 188.7 462.8 187.4 461.8C186.1 460.7 184.7 459.8 183.4 458.7C182.1 457.7 180.8 456.6 179.6 455.4C178.4 454.3 177.2 453.0 176.1 451.7C175.0 450.5 174.0 449.1 173.0 447.8C172.0 446.4 171.1 445.0 170.2 443.6C169.3 442.2 168.4 440.7 167.7 439.3C166.9 437.8 166.2 436.2 165.6 434.7C165.0 433.1 164.4 431.5 163.9 429.9C163.4 428.3 163.0 426.7 162.6 425.0C162.2 423.4 161.9 421.7 161.7 420.1C161.5 418.4 161.4 416.7 161.3 415.1C161.2 413.4 161.2 411.7 161.3 410.0C161.3 408.4 161.5 406.7 161.7 405.0ZM425.3 396.9C424.3 395.5 423.5 394.0 422.7 392.5C421.9 391.1 421.2 389.5 420.5 388.0C419.8 386.4 419.2 384.9 418.6 383.3C418.0 381.7 417.4 380.1 416.8 378.5C416.3 376.9 415.7 375.3 415.2 373.7C414.8 372.1 414.3 370.5 413.9 368.8C413.5 367.2 413.1 365.6 412.7 363.9C412.4 362.3 412.1 360.6 411.9 358.9C411.7 357.2 411.5 355.6 411.4 353.9C411.3 352.2 411.3 350.5 411.4 348.8C411.4 347.1 411.5 345.4 411.6 343.8C411.8 342.1 412.0 340.4 412.2 338.7C412.4 337.1 412.7 335.4 413.1 333.7C413.5 332.1 413.9 330.5 414.4 328.9C414.9 327.2 415.5 325.7 416.1 324.1C416.8 322.6 417.5 321.0 418.4 319.6C419.3 318.2 420.2 316.7 421.3 315.5C422.3 314.2 423.5 313.0 424.8 311.9C426.1 310.9 427.6 310.0 429.1 309.4C430.6 308.7 432.2 308.3 433.9 308.1C435.5 308.0 437.2 308.1 438.8 308.5C440.4 308.8 442.0 309.4 443.5 310.1C445.0 310.9 446.4 311.8 447.8 312.8C449.1 313.8 450.4 314.9 451.7 316.0C452.9 317.1 454.1 318.3 455.4 319.4C456.6 320.6 457.8 321.8 459.0 323.0C460.2 324.2 461.3 325.4 462.5 326.6C463.7 327.8 464.9 329.0 466.1 330.2C467.4 331.3 468.6 332.4 469.9 333.5C471.2 334.6 472.6 335.6 473.9 336.7C475.2 337.7 476.6 338.7 477.9 339.8C479.2 340.9 480.5 342.0 481.7 343.1C483.0 344.3 484.2 345.4 485.4 346.6C486.6 347.8 487.8 349.0 488.9 350.3C490.0 351.5 491.1 352.9 492.1 354.2C493.1 355.5 494.1 356.9 495.0 358.3C495.9 359.8 496.7 361.2 497.5 362.7C498.3 364.2 499.1 365.7 499.8 367.3C500.5 368.8 501.1 370.4 501.7 371.9C502.4 373.5 502.9 375.1 503.5 376.7C504.0 378.3 504.5 379.9 505.0 381.5C505.5 383.1 505.9 384.8 506.4 386.4C506.8 388.0 507.2 389.7 507.6 391.3C508.0 392.9 508.4 394.6 508.8 396.2C509.2 397.9 509.5 399.5 509.8 401.2C510.2 402.8 510.5 404.5 510.9 406.2C511.3 407.8 511.7 409.4 512.2 411.0C512.7 412.7 513.3 414.2 513.9 415.8C514.5 417.4 515.2 418.9 515.9 420.5C516.6 422.0 517.4 423.5 518.2 424.9C519.0 426.4 519.9 427.9 520.8 429.3C521.7 430.8 522.6 432.2 523.5 433.6C524.4 435.1 525.3 436.5 526.1 437.9C527.0 439.4 527.9 440.8 528.8 442.3C529.6 443.7 530.5 445.2 531.3 446.7C532.1 448.1 532.9 449.6 533.7 451.1C534.4 452.7 535.1 454.2 535.8 455.7C536.4 457.3 537.0 458.9 537.6 460.5C538.1 462.1 538.5 463.7 539.0 465.3C539.4 467.0 539.7 468.6 540.1 470.3C540.4 471.9 540.7 473.6 541.0 475.3C541.2 476.9 541.5 478.6 541.7 480.3C541.9 482.0 542.1 483.6 542.3 485.3C542.4 487.0 542.6 488.7 542.7 490.4C542.9 492.1 543.0 493.7 543.1 495.4C543.2 497.1 543.2 498.8 543.3 500.5C543.3 502.2 543.4 503.9 543.4 505.6C543.4 507.2 543.4 508.9 543.4 510.6C543.3 512.3 543.3 514.0 543.2 515.7C543.2 517.4 543.1 519.1 543.0 520.8C542.9 522.4 542.7 524.1 542.5 525.8C542.4 527.5 542.1 529.2 541.9 530.8C541.6 532.5 541.4 534.2 541.0 535.8C540.7 537.5 540.4 539.1 540.0 540.8C539.7 542.4 539.3 544.1 538.8 545.7C538.4 547.3 537.9 549.0 537.4 550.6C536.9 552.2 536.4 553.8 535.8 555.4C535.2 557.0 534.6 558.5 534.0 560.1C533.3 561.7 532.6 563.2 531.9 564.7C531.2 566.3 530.5 567.8 529.7 569.3C528.9 570.8 528.1 572.3 527.3 573.7C526.4 575.2 525.5 576.6 524.5 578.0C523.6 579.4 522.6 580.7 521.5 582.0C520.4 583.3 519.3 584.6 518.1 585.8C516.9 587.0 515.7 588.2 514.4 589.2C513.1 590.3 511.7 591.3 510.3 592.2C508.9 593.1 507.4 593.8 505.8 594.5C504.3 595.2 502.7 595.7 501.1 596.2C499.5 596.6 497.8 597.0 496.2 597.2C494.5 597.5 492.8 597.6 491.1 597.7C489.4 597.8 487.7 597.8 486.1 597.8C484.4 597.7 482.7 597.6 481.0 597.5C479.3 597.4 477.6 597.2 476.0 597.0C474.3 596.8 472.6 596.6 471.0 596.3C469.3 596.0 467.6 595.6 466.0 595.1C464.4 594.6 462.8 594.1 461.3 593.4C459.7 592.7 458.2 592.0 456.7 591.2C455.3 590.4 453.8 589.5 452.4 588.5C451.0 587.6 449.7 586.6 448.4 585.5C447.1 584.4 445.9 583.3 444.7 582.1C443.5 580.9 442.4 579.6 441.3 578.3C440.2 577.0 439.2 575.6 438.2 574.3C437.3 572.9 436.3 571.5 435.4 570.1C434.5 568.6 433.7 567.2 432.9 565.7C432.1 564.2 431.4 562.7 430.6 561.2C429.9 559.6 429.2 558.1 428.4 556.6C427.6 555.1 426.8 553.6 426.0 552.1C425.2 550.7 424.3 549.2 423.3 547.8C422.3 546.5 421.3 545.1 420.2 543.9C419.0 542.7 417.8 541.6 416.4 540.6C415.1 539.6 413.6 538.7 412.1 538.0C410.6 537.3 408.9 536.9 407.4 536.4C405.8 535.9 404.1 535.7 402.6 535.1C401.1 534.5 399.7 533.8 398.5 532.8C397.3 531.8 396.4 530.3 395.5 528.9C394.6 527.5 393.9 525.9 393.3 524.4C392.6 522.8 392.1 521.2 391.6 519.6C391.1 518.0 390.6 516.4 390.3 514.7C389.9 513.1 389.6 511.4 389.3 509.7C389.0 508.1 388.8 506.4 388.6 504.7C388.4 503.1 388.3 501.4 388.3 499.7C388.3 498.0 388.3 496.3 388.4 494.6C388.5 492.9 388.6 491.3 388.8 489.6C389.0 487.9 389.3 486.2 389.6 484.6C389.9 482.9 390.2 481.2 390.5 479.6C390.9 477.9 391.3 476.3 391.8 474.7C392.2 473.1 392.8 471.4 393.4 469.9C394.0 468.3 394.8 466.8 395.6 465.3C396.4 463.9 397.3 462.4 398.3 461.1C399.3 459.8 400.4 458.5 401.6 457.4C402.8 456.2 404.1 455.2 405.4 454.0C406.6 452.9 407.7 451.6 409.0 450.5C410.2 449.4 411.4 448.2 412.8 447.3C414.2 446.5 415.8 445.7 417.3 445.4C418.8 445.2 420.5 445.3 421.9 445.8C423.4 446.3 424.7 447.4 426.0 448.5C427.2 449.5 428.3 450.9 429.4 452.1C430.6 453.3 431.6 454.7 433.0 455.6C434.3 456.5 435.8 457.4 437.3 457.6C438.8 457.8 440.5 457.6 441.9 457.1C443.4 456.6 444.8 455.6 446.0 454.5C447.3 453.4 448.3 452.1 449.2 450.7C450.2 449.3 451.0 447.8 451.7 446.3C452.4 444.8 453.0 443.2 453.6 441.6C454.1 440.0 454.5 438.4 454.9 436.7C455.2 435.1 455.4 433.4 455.5 431.7C455.6 430.1 455.6 428.4 455.5 426.7C455.3 425.0 455.1 423.3 454.6 421.7C454.2 420.1 453.7 418.5 453.0 417.0C452.2 415.5 451.4 414.0 450.3 412.8C449.2 411.5 448.0 410.4 446.6 409.5C445.3 408.5 443.7 407.7 442.2 407.0C440.7 406.3 439.1 405.8 437.5 405.2C436.0 404.5 434.4 404.0 432.9 403.2C431.4 402.4 430.0 401.6 428.7 400.5C427.4 399.4 426.3 398.2 425.3 396.9ZM219.7 397.0C220.0 395.4 220.5 393.8 221.1 392.2C221.7 390.7 222.3 389.1 223.0 387.6C223.7 386.1 224.5 384.6 225.4 383.2C226.3 381.8 227.3 380.4 228.3 379.1C229.3 377.8 230.4 376.6 231.6 375.4C232.8 374.2 234.0 373.0 235.3 372.0C236.6 370.9 238.0 369.9 239.4 369.0C240.8 368.1 242.2 367.3 243.7 366.5C245.1 365.7 246.6 364.9 248.2 364.3C249.7 363.6 251.2 362.9 252.8 362.4C254.4 361.9 256.0 361.5 257.6 361.4C259.2 361.3 260.9 361.5 262.4 362.0C263.9 362.5 265.3 363.4 266.6 364.5C267.8 365.5 268.9 366.8 270.0 368.1C271.0 369.3 272.0 370.7 273.1 372.0C274.1 373.4 275.1 374.7 276.1 376.0C277.1 377.3 278.1 378.7 279.2 380.0C280.3 381.2 281.4 382.5 282.6 383.6C283.9 384.7 285.3 385.6 286.7 386.5C288.1 387.3 289.7 387.9 291.2 388.6C292.8 389.2 294.3 389.8 295.9 390.4C297.5 391.0 299.1 391.5 300.5 392.2C302.0 393.0 303.4 393.8 304.6 394.9C305.8 396.0 306.8 397.3 307.7 398.7C308.6 400.1 309.4 401.6 310.1 403.1C310.8 404.6 311.4 406.2 311.9 407.8C312.4 409.3 312.9 411.0 313.3 412.6C313.7 414.2 314.0 415.9 314.3 417.5C314.6 419.2 314.8 420.8 315.0 422.5C315.2 424.1 315.3 425.8 315.4 427.5C315.5 429.2 315.5 430.8 315.6 432.5C315.6 434.2 315.6 435.8 315.5 437.5C315.5 439.2 315.4 440.9 315.3 442.5C315.2 444.2 315.0 445.9 314.8 447.5C314.7 449.2 314.5 450.9 314.2 452.5C314.0 454.2 313.7 455.8 313.4 457.5C313.1 459.1 312.8 460.8 312.4 462.4C312.1 464.0 311.7 465.7 311.3 467.3C310.9 468.9 310.4 470.5 310.0 472.2C309.5 473.8 309.1 475.4 308.6 477.0C308.1 478.6 307.6 480.2 307.0 481.7C306.4 483.3 305.8 484.9 305.1 486.4C304.5 487.9 303.8 489.5 303.0 490.9C302.2 492.4 301.3 493.9 300.3 495.2C299.4 496.5 298.3 497.9 297.1 498.9C295.8 499.8 294.4 500.6 292.9 501.1C291.3 501.5 289.6 501.5 288.0 501.5C286.4 501.4 284.7 501.1 283.0 500.9C281.4 500.7 279.7 500.5 278.0 500.4C276.4 500.2 274.7 500.1 273.0 499.9C271.4 499.7 269.7 499.5 268.1 499.2C266.5 498.8 264.8 498.4 263.3 497.8C261.7 497.3 260.2 496.6 258.7 495.8C257.3 495.0 255.9 494.0 254.6 493.0C253.3 492.0 252.2 490.8 251.0 489.6C249.8 488.4 248.7 487.1 247.6 485.8C246.5 484.6 245.4 483.3 244.3 482.1C243.2 480.8 242.1 479.6 241.0 478.2C240.0 476.9 239.0 475.6 238.0 474.2C237.1 472.8 236.3 471.4 235.5 469.9C234.7 468.5 234.0 466.9 233.3 465.4C232.7 463.9 232.1 462.3 231.5 460.7C231.0 459.1 230.5 457.5 230.0 455.9C229.6 454.3 229.2 452.7 228.8 451.0C228.5 449.4 228.2 447.8 227.9 446.1C227.5 444.5 227.2 442.8 226.8 441.2C226.4 439.6 226.0 437.9 225.6 436.3C225.1 434.7 224.6 433.1 224.2 431.5C223.7 429.9 223.2 428.3 222.8 426.7C222.3 425.1 221.9 423.5 221.5 421.8C221.1 420.2 220.8 418.6 220.5 416.9C220.1 415.3 219.9 413.6 219.6 412.0C219.4 410.3 219.2 408.6 219.1 407.0C219.0 405.3 218.9 403.6 219.0 402.0C219.1 400.3 219.3 398.7 219.7 397.0ZM477.7 457.4C479.4 457.5 481.1 457.8 482.7 458.1C484.4 458.4 486.0 458.8 487.7 459.3C489.3 459.8 490.9 460.3 492.5 460.9C494.1 461.5 495.7 462.1 497.2 462.8C498.7 463.5 500.3 464.3 501.8 465.1C503.3 465.9 504.8 466.7 506.2 467.5C507.7 468.4 509.2 469.2 510.6 470.1C512.1 471.0 513.5 471.9 514.9 472.9C516.3 473.9 517.6 474.9 518.9 476.1C520.1 477.2 521.3 478.4 522.4 479.7C523.5 481.0 524.5 482.4 525.5 483.8C526.4 485.2 527.3 486.6 528.1 488.1C528.9 489.6 529.6 491.2 530.2 492.7C530.9 494.3 531.4 495.9 531.9 497.5C532.3 499.2 532.7 500.8 533.1 502.5C533.4 504.2 533.7 505.8 533.9 507.5C534.1 509.2 534.2 510.9 534.2 512.6C534.3 514.3 534.2 516.0 534.2 517.7C534.1 519.4 534.0 521.1 533.8 522.8C533.7 524.5 533.5 526.2 533.2 527.8C533.0 529.5 532.8 531.2 532.5 532.9C532.2 534.5 531.8 536.2 531.4 537.9C531.0 539.5 530.6 541.2 530.1 542.8C529.6 544.4 529.1 546.0 528.5 547.6C527.9 549.2 527.2 550.8 526.6 552.3C525.9 553.9 525.2 555.4 524.4 557.0C523.7 558.5 522.9 560.0 522.0 561.5C521.2 562.9 520.3 564.4 519.3 565.7C518.3 567.1 517.2 568.4 516.1 569.7C514.9 570.9 513.7 572.1 512.4 573.2C511.1 574.2 509.7 575.2 508.3 576.1C506.8 576.9 505.3 577.6 503.7 578.2C502.1 578.7 500.4 579.0 498.7 579.2C497.1 579.4 495.4 579.4 493.7 579.3C492.0 579.3 490.3 579.1 488.6 578.9C486.9 578.7 485.2 578.5 483.6 578.2C481.9 578.0 480.2 577.7 478.5 577.4C476.9 577.1 475.2 576.8 473.5 576.3C471.9 575.9 470.3 575.5 468.7 574.9C467.1 574.4 465.5 573.8 463.9 573.0C462.4 572.3 460.9 571.5 459.5 570.6C458.1 569.6 456.7 568.6 455.4 567.5C454.1 566.4 452.9 565.3 451.7 564.1C450.5 562.9 449.4 561.6 448.2 560.3C447.1 559.0 446.1 557.7 445.1 556.3C444.1 555.0 443.1 553.6 442.2 552.1C441.3 550.7 440.5 549.2 439.7 547.7C439.0 546.2 438.3 544.6 437.7 543.0C437.1 541.5 436.5 539.8 436.1 538.2C435.6 536.6 435.2 534.9 434.8 533.3C434.4 531.6 434.1 529.9 433.9 528.3C433.6 526.6 433.4 524.9 433.3 523.2C433.2 521.5 433.2 519.8 433.3 518.1C433.3 516.4 433.5 514.7 433.7 513.0C433.9 511.4 434.1 509.7 434.5 508.0C434.8 506.4 435.2 504.7 435.6 503.1C436.0 501.4 436.5 499.8 437.0 498.2C437.5 496.5 438.1 494.9 438.7 493.4C439.3 491.8 440.0 490.2 440.7 488.7C441.5 487.1 442.3 485.6 443.1 484.2C443.9 482.7 444.9 481.3 445.8 479.9C446.8 478.5 447.8 477.1 448.8 475.7C449.8 474.4 450.9 473.1 452.0 471.8C453.2 470.5 454.3 469.3 455.5 468.1C456.7 466.9 458.0 465.7 459.3 464.7C460.6 463.6 462.0 462.6 463.4 461.7C464.8 460.8 466.3 460.0 467.9 459.3C469.4 458.7 471.1 458.1 472.7 457.8C474.3 457.5 476.0 457.4 477.7 457.4ZM480.2 493.0C481.9 493.1 483.6 493.3 485.3 493.7C487.0 494.0 488.6 494.5 490.3 495.1C491.9 495.7 493.5 496.3 495.1 497.0C496.6 497.8 498.2 498.5 499.6 499.4C501.1 500.3 502.5 501.3 503.9 502.4C505.2 503.5 506.5 504.7 507.6 506.0C508.8 507.2 509.8 508.6 510.8 510.0C511.7 511.5 512.5 513.0 513.2 514.6C513.9 516.1 514.5 517.8 515.0 519.4C515.4 521.1 515.7 522.8 515.9 524.5C516.0 526.2 515.9 527.9 515.8 529.6C515.6 531.3 515.2 533.0 514.8 534.7C514.3 536.4 513.8 538.0 513.1 539.6C512.4 541.1 511.6 542.7 510.5 544.0C509.5 545.3 508.2 546.5 506.8 547.3C505.4 548.2 503.7 548.7 502.1 549.1C500.4 549.5 498.6 549.6 496.9 549.6C495.2 549.7 493.5 549.6 491.8 549.5C490.0 549.4 488.3 549.2 486.6 548.9C484.9 548.6 483.2 548.3 481.5 547.9C479.9 547.5 478.2 547.0 476.6 546.3C475.0 545.6 473.5 544.8 472.0 544.0C470.6 543.1 469.1 542.1 467.8 541.0C466.4 540.0 465.1 538.9 463.9 537.7C462.6 536.4 461.5 535.1 460.5 533.7C459.5 532.3 458.6 530.9 457.9 529.3C457.2 527.8 456.5 526.1 456.1 524.5C455.7 522.8 455.5 521.1 455.4 519.4C455.3 517.7 455.3 515.9 455.6 514.2C455.8 512.5 456.1 510.8 456.6 509.2C457.1 507.6 457.8 506.0 458.6 504.5C459.4 503.0 460.4 501.5 461.6 500.3C462.7 499.1 464.1 497.9 465.5 497.0C466.9 496.1 468.5 495.3 470.1 494.7C471.7 494.1 473.4 493.7 475.1 493.4C476.8 493.1 478.5 493.0 480.2 493.0ZM216.9 572.1C218.2 572.3 219.7 573.2 220.8 574.3C221.8 575.3 222.7 576.9 223.5 578.3C224.2 579.8 224.7 581.4 225.3 583.0C225.8 584.6 226.3 586.2 226.9 587.8C227.4 589.4 227.9 591.0 228.5 592.6C229.1 594.1 229.8 595.7 230.6 597.1C231.4 598.6 232.3 600.0 233.4 601.3C234.5 602.5 235.7 603.7 237.0 604.7C238.3 605.7 239.8 606.5 241.3 607.3C242.7 608.1 244.3 608.8 245.8 609.6C247.2 610.4 248.7 611.3 250.0 612.3C251.3 613.3 252.6 614.5 253.7 615.7C254.8 616.9 255.8 618.3 256.6 619.7C257.5 621.2 258.2 622.7 258.9 624.2C259.5 625.8 260.0 627.4 260.5 629.0C260.9 630.6 261.3 632.3 261.6 633.9C261.9 635.6 262.2 637.2 262.4 638.9C262.6 640.6 262.7 642.3 262.8 643.9C262.9 645.6 263.0 647.3 263.0 649.0C262.9 650.7 262.9 652.3 262.8 654.0C262.6 655.7 262.5 657.4 262.3 659.1C262.1 660.7 261.8 662.4 261.5 664.0C261.2 665.7 260.8 667.3 260.5 669.0C260.1 670.6 259.6 672.3 259.1 673.9C258.7 675.5 258.1 677.1 257.5 678.6C256.9 680.2 256.2 681.8 255.5 683.2C254.7 684.7 253.9 686.2 252.9 687.5C251.9 688.9 250.8 690.2 249.5 691.1C248.2 692.1 246.7 692.9 245.2 693.2C243.7 693.6 242.0 693.5 240.5 693.1C239.0 692.7 237.5 691.8 236.2 690.8C234.9 689.8 233.9 688.5 232.8 687.2C231.8 685.9 231.0 684.4 230.2 682.9C229.3 681.5 228.6 679.9 227.9 678.4C227.2 676.9 226.6 675.3 226.0 673.7C225.4 672.2 224.9 670.6 224.3 669.0C223.8 667.4 223.3 665.8 222.8 664.2C222.2 662.6 221.8 661.0 221.3 659.4C220.8 657.7 220.3 656.1 219.8 654.5C219.3 652.9 218.9 651.3 218.3 649.7C217.8 648.1 217.2 646.5 216.6 644.9C216.0 643.4 215.2 641.9 214.5 640.4C213.7 638.9 213.0 637.4 212.2 635.8C211.5 634.3 210.8 632.8 210.1 631.3C209.5 629.7 208.9 628.1 208.3 626.5C207.8 624.9 207.4 623.3 207.0 621.7C206.6 620.0 206.3 618.4 206.0 616.7C205.8 615.1 205.6 613.4 205.4 611.7C205.2 610.0 205.1 608.4 205.0 606.7C205.0 605.0 205.0 603.3 205.0 601.6C205.0 599.9 205.1 598.3 205.3 596.6C205.4 594.9 205.6 593.2 205.9 591.6C206.1 589.9 206.4 588.2 206.7 586.6C207.1 585.0 207.5 583.3 208.0 581.7C208.5 580.1 209.1 578.5 209.9 577.1C210.8 575.7 211.8 574.2 212.9 573.4C214.1 572.5 215.6 572.0 216.9 572.1ZM790.3 141.5C791.9 141.7 793.6 142.0 795.1 142.7C796.5 143.4 797.9 144.4 799.0 145.5C800.1 146.7 800.9 148.2 801.7 149.7C802.4 151.2 803.0 152.8 803.5 154.4C804.0 156.0 804.3 157.6 804.6 159.3C804.9 160.9 805.1 162.6 805.3 164.3C805.5 166.0 805.6 167.6 805.7 169.3C805.9 171.0 806.0 172.7 806.1 174.4C806.2 176.0 806.3 177.7 806.4 179.4C806.5 181.1 806.6 182.8 806.6 184.5C806.7 186.1 806.7 187.8 806.7 189.5C806.6 191.2 806.5 192.9 806.4 194.5C806.4 196.2 806.2 197.9 806.1 199.6C805.9 201.3 805.8 202.9 805.6 204.6C805.5 206.3 805.3 208.0 805.1 209.6C805.0 211.3 804.8 213.0 804.6 214.7C804.5 216.3 804.3 218.0 804.1 219.7C803.9 221.4 803.8 223.0 803.6 224.7C803.4 226.4 803.3 228.1 803.1 229.7C802.9 231.4 802.7 233.1 802.5 234.8C802.3 236.4 802.1 238.1 801.8 239.8C801.5 241.4 801.3 243.1 800.8 244.7C800.3 246.3 799.7 247.8 798.8 249.2C798.0 250.7 796.9 252.0 795.8 253.2C794.7 254.5 793.4 255.6 792.2 256.7C790.9 257.8 789.6 258.8 788.4 260.0C787.3 261.2 786.3 262.6 785.3 263.9C784.3 265.3 783.4 266.7 782.4 268.1C781.5 269.5 780.6 270.9 779.7 272.3C778.8 273.8 777.9 275.2 777.1 276.6C776.2 278.1 775.4 279.6 774.5 281.0C773.7 282.5 772.9 284.0 772.1 285.4C771.3 286.9 770.5 288.4 769.6 289.8C768.8 291.3 767.8 292.7 767.0 294.2C766.2 295.6 765.3 297.0 764.6 298.6C764.0 300.1 763.5 301.7 763.2 303.4C762.9 305.0 762.8 306.7 763.0 308.3C763.1 310.0 763.4 311.7 763.8 313.3C764.3 314.9 765.0 316.4 765.7 317.9C766.4 319.4 767.3 320.8 768.2 322.3C769.1 323.7 770.0 325.2 770.8 326.6C771.6 328.1 772.4 329.6 773.2 331.1C773.9 332.6 774.7 334.1 775.3 335.6C776.0 337.2 776.6 338.7 777.2 340.3C777.8 341.9 778.3 343.5 778.8 345.1C779.3 346.7 779.7 348.4 780.0 350.0C780.3 351.7 780.6 353.3 780.8 355.0C781.0 356.7 781.1 358.3 781.1 360.0C781.1 361.7 781.1 363.4 781.0 365.1C780.8 366.7 780.6 368.4 780.4 370.1C780.2 371.7 779.9 373.4 779.5 375.0C779.2 376.7 778.8 378.3 778.4 380.0C778.0 381.6 777.6 383.2 777.1 384.9C776.6 386.5 776.2 388.1 775.6 389.7C775.1 391.3 774.6 392.9 774.0 394.5C773.4 396.0 772.8 397.6 772.1 399.2C771.5 400.7 770.8 402.3 770.2 403.8C769.5 405.4 768.8 406.9 768.2 408.4C767.5 410.0 766.8 411.5 766.2 413.1C765.6 414.7 765.0 416.2 764.4 417.8C763.9 419.4 763.3 421.0 762.8 422.6C762.3 424.2 761.8 425.8 761.4 427.4C760.9 429.1 760.5 430.7 760.1 432.3C759.7 434.0 759.4 435.6 759.0 437.3C758.7 438.9 758.3 440.6 758.0 442.2C757.6 443.9 757.3 445.5 757.0 447.2C756.6 448.8 756.3 450.5 755.9 452.1C755.5 453.7 755.1 455.4 754.6 457.0C754.2 458.6 753.7 460.3 753.0 461.7C752.3 463.2 751.4 464.9 750.4 465.7C749.4 466.5 747.9 466.8 746.8 466.4C745.7 465.9 744.6 464.4 743.7 463.1C742.8 461.8 742.2 460.1 741.5 458.6C740.8 457.1 740.1 455.5 739.4 454.0C738.8 452.4 738.1 450.9 737.5 449.3C736.8 447.8 736.1 446.2 735.4 444.7C734.7 443.2 734.0 441.6 733.3 440.1C732.6 438.6 731.8 437.1 731.1 435.6C730.3 434.1 729.6 432.6 728.8 431.0C728.1 429.5 727.4 428.0 726.7 426.5C726.0 424.9 725.4 423.4 724.8 421.8C724.3 420.2 723.8 418.6 723.4 416.9C723.0 415.3 722.6 413.7 722.4 412.0C722.1 410.4 721.8 408.7 721.6 407.0C721.4 405.3 721.3 403.7 721.2 402.0C721.0 400.3 720.9 398.6 720.9 396.9C720.8 395.3 720.8 393.6 720.8 391.9C720.8 390.2 720.9 388.5 721.0 386.8C721.1 385.2 721.2 383.5 721.4 381.8C721.5 380.1 721.7 378.5 721.9 376.8C722.1 375.1 722.3 373.4 722.5 371.8C722.7 370.1 722.9 368.4 723.1 366.8C723.4 365.1 723.6 363.4 723.9 361.8C724.1 360.1 724.3 358.4 724.6 356.8C724.9 355.1 725.2 353.5 725.5 351.8C725.8 350.1 726.2 348.5 726.4 346.8C726.7 345.2 726.9 343.5 727.0 341.8C727.1 340.1 727.2 338.4 727.2 336.8C727.2 335.1 727.1 333.4 726.8 331.8C726.6 330.1 726.2 328.5 725.7 326.9C725.2 325.3 724.6 323.7 723.8 322.2C723.1 320.7 722.2 319.3 721.2 317.9C720.3 316.5 719.2 315.2 718.2 313.9C717.1 312.6 716.1 311.2 715.1 309.9C714.1 308.5 713.1 307.1 712.3 305.7C711.4 304.3 710.5 302.8 709.8 301.3C709.1 299.8 708.5 298.2 708.0 296.6C707.6 295.0 707.2 293.4 707.1 291.7C706.9 290.0 706.9 288.3 707.0 286.7C707.0 285.0 707.3 283.3 707.6 281.7C707.9 280.0 708.3 278.4 708.8 276.8C709.3 275.2 709.9 273.6 710.6 272.1C711.2 270.5 712.0 269.0 712.8 267.6C713.7 266.1 714.6 264.7 715.5 263.3C716.5 261.9 717.5 260.6 718.6 259.3C719.7 258.0 720.8 256.8 722.0 255.6C723.2 254.4 724.4 253.3 725.7 252.1C726.9 251.0 728.2 249.9 729.6 248.9C730.9 247.8 732.3 246.9 733.6 245.9C734.9 244.8 736.3 243.8 737.5 242.7C738.8 241.6 740.0 240.4 741.1 239.2C742.3 237.9 743.4 236.7 744.4 235.3C745.4 234.0 746.3 232.6 747.1 231.1C747.9 229.6 748.6 228.1 749.3 226.6C749.9 225.0 750.4 223.4 750.9 221.8C751.4 220.2 751.8 218.6 752.3 216.9C752.7 215.3 753.1 213.7 753.4 212.0C753.8 210.4 754.1 208.7 754.4 207.0C754.7 205.4 755.0 203.7 755.3 202.1C755.6 200.4 755.8 198.8 756.2 197.1C756.5 195.4 756.8 193.8 757.1 192.1C757.4 190.5 757.7 188.8 758.1 187.2C758.4 185.5 758.8 183.9 759.1 182.2C759.5 180.6 759.9 179.0 760.3 177.3C760.8 175.7 761.2 174.1 761.7 172.5C762.2 170.9 762.7 169.3 763.2 167.7C763.8 166.1 764.4 164.5 765.1 163.0C765.8 161.4 766.5 159.9 767.3 158.4C768.1 157.0 769.0 155.5 769.9 154.1C770.8 152.7 771.9 151.4 773.0 150.1C774.1 148.9 775.3 147.7 776.6 146.7C777.9 145.7 779.3 144.7 780.8 143.9C782.2 143.1 783.8 142.3 785.4 142.0C787.0 141.6 788.7 141.4 790.3 141.5ZM783.1 168.2C784.7 168.4 786.4 169.3 787.6 170.4C788.9 171.5 789.9 173.1 790.8 174.7C791.6 176.3 792.2 178.0 792.7 179.8C793.2 181.5 793.5 183.3 793.8 185.1C794.0 186.9 794.2 188.8 794.4 190.6C794.5 192.4 794.5 194.2 794.5 196.0C794.4 197.9 794.3 199.7 794.1 201.5C793.9 203.3 793.6 205.1 793.3 206.9C792.9 208.7 792.4 210.5 791.9 212.2C791.4 214.0 790.8 215.7 790.1 217.4C789.5 219.1 788.8 220.8 787.9 222.4C787.1 224.0 786.2 225.6 785.2 227.1C784.2 228.6 783.0 230.1 781.8 231.4C780.5 232.7 779.2 234.0 777.7 234.9C776.3 235.9 774.5 236.9 773.0 236.9C771.5 237.0 769.9 236.3 768.7 235.3C767.5 234.3 766.6 232.5 765.9 230.9C765.2 229.3 764.8 227.4 764.4 225.6C764.0 223.9 763.8 222.0 763.7 220.2C763.5 218.4 763.5 216.6 763.6 214.8C763.6 212.9 763.7 211.1 763.9 209.3C764.1 207.5 764.3 205.7 764.6 203.9C764.9 202.1 765.2 200.3 765.5 198.5C765.8 196.7 766.2 194.9 766.6 193.1C767.0 191.3 767.4 189.5 767.9 187.8C768.4 186.0 768.9 184.3 769.5 182.5C770.1 180.8 770.8 179.1 771.6 177.5C772.4 175.9 773.3 174.2 774.4 172.8C775.5 171.5 776.8 170.0 778.3 169.2C779.7 168.5 781.5 168.0 783.1 168.2ZM850.0 153.0C851.1 151.8 852.3 150.6 853.5 149.4C854.6 148.1 855.7 146.9 856.9 145.7C858.0 144.5 859.1 143.2 860.3 142.0C861.4 140.7 862.5 139.4 863.6 138.2C864.6 136.9 865.7 135.6 866.8 134.3C867.9 133.0 868.9 131.8 870.0 130.5C871.1 129.2 872.2 127.9 873.2 126.6C874.3 125.4 875.4 124.1 876.5 122.8C877.6 121.5 878.6 120.2 879.8 119.0C880.9 117.8 882.1 116.6 883.4 115.5C884.6 114.4 886.0 113.4 887.3 112.4C888.7 111.4 890.1 110.5 891.5 109.6C892.9 108.7 894.3 107.8 895.8 107.0C897.2 106.2 898.7 105.4 900.2 104.6C901.6 103.8 903.1 103.0 904.6 102.2C906.0 101.4 907.5 100.5 908.9 99.7C910.4 98.9 911.8 98.0 913.3 97.2C914.7 96.4 916.2 95.5 917.6 94.7C919.1 93.8 920.5 93.0 922.0 92.2C923.5 91.5 925.0 90.8 926.6 90.2C928.1 89.5 929.7 89.0 931.3 88.5C932.9 88.0 934.5 87.5 936.1 87.0C937.7 86.5 939.3 86.1 940.9 85.6C942.5 85.1 944.1 84.6 945.7 84.1C947.3 83.6 948.9 83.1 950.5 82.7C952.1 82.2 953.8 81.7 955.4 81.4C957.0 81.0 958.6 80.6 960.3 80.3C961.9 80.0 963.6 79.8 965.3 79.6C966.9 79.5 968.6 79.4 970.3 79.3C971.9 79.2 973.6 79.1 975.3 79.0C976.9 78.9 978.6 78.8 980.3 78.6C981.9 78.4 983.6 78.1 985.2 77.8C986.9 77.5 988.5 77.1 990.1 76.7C991.8 76.4 993.4 76.1 995.1 75.8C996.7 75.5 998.4 75.2 1000.0 75.1C1001.7 74.9 1003.4 74.8 1005.0 74.9C1006.7 75.1 1008.4 75.3 1009.9 75.8C1011.5 76.3 1013.1 76.9 1014.5 77.8C1015.9 78.6 1017.3 79.6 1018.5 80.7C1019.7 81.9 1020.8 83.1 1021.9 84.4C1023.0 85.7 1023.9 87.1 1024.8 88.5C1025.8 89.8 1026.6 91.3 1027.4 92.8C1028.2 94.2 1029.0 95.7 1029.7 97.2C1030.4 98.8 1031.0 100.3 1031.7 101.8C1032.3 103.4 1032.9 105.0 1033.5 106.5C1034.1 108.1 1034.6 109.7 1035.2 111.3C1035.7 112.9 1036.2 114.4 1036.7 116.0C1037.2 117.6 1037.7 119.2 1038.2 120.8C1038.7 122.4 1039.1 124.1 1039.6 125.7C1040.1 127.3 1040.5 128.9 1041.0 130.5C1041.4 132.1 1041.9 133.7 1042.3 135.3C1042.8 136.9 1043.2 138.6 1043.6 140.2C1044.0 141.8 1044.5 143.4 1044.9 145.0C1045.2 146.7 1045.6 148.3 1046.0 149.9C1046.3 151.6 1046.6 153.2 1047.0 154.9C1047.3 156.5 1047.6 158.2 1047.9 159.8C1048.1 161.5 1048.4 163.1 1048.7 164.8C1049.0 166.4 1049.3 168.0 1049.6 169.7C1049.9 171.3 1050.2 173.0 1050.5 174.6C1050.8 176.3 1051.1 177.9 1051.3 179.6C1051.6 181.2 1051.8 182.9 1052.0 184.6C1052.1 186.2 1052.1 187.9 1052.1 189.6C1052.1 191.2 1052.0 192.9 1051.9 194.6C1051.8 196.3 1051.6 197.9 1051.4 199.6C1051.2 201.3 1051.0 202.9 1050.8 204.6C1050.5 206.2 1050.2 207.9 1049.9 209.5C1049.6 211.2 1049.2 212.8 1048.9 214.4C1048.5 216.1 1048.1 217.7 1047.7 219.3C1047.3 220.9 1046.9 222.6 1046.5 224.2C1046.0 225.8 1045.6 227.4 1045.1 229.0C1044.7 230.6 1044.2 232.2 1043.7 233.8C1043.3 235.4 1042.8 237.1 1042.3 238.7C1041.8 240.3 1041.3 241.9 1040.8 243.5C1040.3 245.0 1039.8 246.6 1039.2 248.2C1038.7 249.8 1038.1 251.4 1037.4 252.9C1036.8 254.5 1036.1 256.0 1035.4 257.5C1034.8 259.0 1034.1 260.6 1033.4 262.1C1032.7 263.6 1032.0 265.2 1031.4 266.7C1030.7 268.2 1030.0 269.7 1029.3 271.3C1028.6 272.8 1027.9 274.3 1027.1 275.8C1026.4 277.3 1025.7 278.8 1024.9 280.3C1024.1 281.8 1023.3 283.2 1022.4 284.6C1021.5 286.1 1020.6 287.5 1019.6 288.8C1018.6 290.1 1017.6 291.5 1016.4 292.7C1015.3 293.9 1014.0 295.0 1012.7 296.1C1011.4 297.1 1010.1 298.1 1008.7 299.0C1007.3 300.0 1005.9 300.9 1004.5 301.8C1003.1 302.7 1001.6 303.5 1000.2 304.4C998.8 305.3 997.4 306.3 996.0 307.2C994.7 308.2 993.3 309.1 991.9 310.1C990.6 311.1 989.2 312.1 987.8 313.0C986.5 313.9 985.1 314.9 983.6 315.8C982.2 316.6 980.8 317.5 979.3 318.4C977.9 319.2 976.4 320.0 974.9 320.8C973.5 321.5 971.9 322.2 970.4 322.8C968.8 323.4 967.2 323.8 965.6 324.2C964.0 324.7 962.3 325.0 960.7 325.4C959.0 325.7 957.4 326.1 955.8 326.5C954.2 327.0 952.6 327.4 950.9 327.8C949.3 328.3 947.7 328.8 946.2 329.4C944.6 329.9 943.0 330.6 941.5 331.3C940.0 331.9 938.5 332.7 937.0 333.5C935.5 334.3 934.1 335.1 932.6 335.8C931.1 336.6 929.6 337.3 928.1 338.1C926.6 338.8 925.1 339.5 923.6 340.2C922.0 340.9 920.5 341.6 918.9 342.2C917.4 342.8 915.8 343.4 914.2 343.9C912.6 344.4 911.0 344.8 909.4 345.2C907.7 345.6 906.1 345.9 904.4 346.1C902.8 346.3 901.1 346.4 899.4 346.4C897.8 346.4 896.1 346.3 894.4 346.1C892.8 345.9 891.1 345.7 889.5 345.3C887.9 345.0 886.3 344.5 884.7 343.9C883.1 343.3 881.6 342.6 880.1 341.8C878.7 341.0 877.2 340.1 875.8 339.3C874.4 338.4 872.9 337.5 871.5 336.7C870.0 335.9 868.6 335.0 867.1 334.3C865.6 333.7 864.0 333.0 862.4 332.7C860.8 332.5 859.1 332.4 857.5 332.7C855.9 332.9 854.3 333.6 852.9 334.5C851.6 335.3 850.4 336.5 849.2 337.7C848.0 338.9 847.0 340.2 846.0 341.5C844.9 342.8 843.9 344.2 842.9 345.5C841.9 346.9 840.9 348.2 839.9 349.5C838.9 350.9 837.8 352.2 836.7 353.4C835.6 354.7 834.5 355.9 833.3 357.1C832.1 358.3 830.9 359.5 829.6 360.5C828.3 361.5 826.9 362.5 825.4 363.2C824.0 364.0 822.4 364.6 820.8 364.8C819.2 365.0 817.5 364.9 816.0 364.4C814.6 363.8 813.2 362.7 812.1 361.6C811.0 360.4 810.1 358.9 809.2 357.5C808.4 356.1 807.7 354.5 807.1 353.0C806.4 351.5 805.9 349.9 805.4 348.3C804.8 346.7 804.4 345.1 804.0 343.5C803.5 341.8 803.2 340.2 802.8 338.6C802.5 336.9 802.2 335.3 801.9 333.6C801.6 332.0 801.4 330.3 801.2 328.7C800.9 327.0 800.7 325.4 800.5 323.7C800.3 322.0 800.2 320.4 800.0 318.7C799.9 317.0 799.8 315.4 799.7 313.7C799.6 312.0 799.5 310.3 799.4 308.7C799.3 307.0 799.2 305.3 799.2 303.7C799.2 302.0 799.1 300.3 799.1 298.6C799.1 297.0 799.2 295.3 799.2 293.6C799.3 291.9 799.3 290.3 799.4 288.6C799.5 286.9 799.6 285.2 799.7 283.6C799.8 281.9 799.9 280.2 800.0 278.6C800.1 276.9 800.3 275.2 800.4 273.6C800.6 271.9 800.7 270.2 801.0 268.6C801.3 266.9 801.5 265.2 802.0 263.7C802.5 262.1 803.0 260.4 803.9 259.2C804.9 257.9 806.3 257.0 807.7 256.1C809.0 255.3 810.8 255.0 812.3 254.4C813.9 253.8 815.5 253.3 817.0 252.6C818.5 252.0 820.1 251.3 821.5 250.4C822.9 249.6 824.3 248.6 825.6 247.6C826.9 246.5 828.0 245.3 829.0 243.9C830.0 242.6 830.9 241.2 831.6 239.7C832.4 238.2 833.0 236.6 833.4 235.0C833.9 233.4 834.1 231.8 834.4 230.1C834.7 228.5 834.8 226.8 835.1 225.1C835.3 223.5 835.4 221.8 835.6 220.2C835.8 218.5 836.0 216.8 836.2 215.2C836.4 213.5 836.6 211.8 836.8 210.2C837.0 208.5 837.2 206.9 837.3 205.2C837.5 203.5 837.6 201.9 837.8 200.2C837.9 198.5 838.0 196.9 838.1 195.2C838.2 193.5 838.3 191.8 838.4 190.2C838.5 188.5 838.6 186.8 838.7 185.2C838.9 183.5 839.0 181.8 839.1 180.1C839.2 178.5 839.4 176.8 839.5 175.1C839.7 173.5 839.9 171.8 840.3 170.2C840.6 168.6 841.1 167.0 841.8 165.4C842.4 163.9 843.2 162.4 844.0 160.9C844.8 159.5 845.7 158.0 846.7 156.7C847.7 155.4 848.9 154.2 850.0 153.0ZM857.3 157.3C858.4 156.0 859.6 154.9 860.8 153.7C861.9 152.5 863.1 151.3 864.2 150.1C865.3 148.8 866.3 147.5 867.3 146.2C868.3 144.8 869.3 143.5 870.3 142.1C871.3 140.8 872.3 139.5 873.3 138.1C874.3 136.8 875.4 135.5 876.4 134.2C877.5 132.9 878.5 131.6 879.6 130.4C880.7 129.1 881.8 127.8 882.9 126.6C884.1 125.4 885.2 124.2 886.4 123.1C887.7 121.9 888.9 120.9 890.2 119.8C891.5 118.7 892.8 117.7 894.2 116.8C895.5 115.8 896.9 114.8 898.3 113.9C899.7 113.0 901.1 112.1 902.5 111.3C904.0 110.4 905.4 109.6 906.9 108.9C908.4 108.1 909.9 107.4 911.5 106.8C913.0 106.2 914.6 105.6 916.1 105.0C917.7 104.5 919.3 103.9 920.9 103.4C922.5 103.0 924.1 102.5 925.7 102.0C927.3 101.5 928.9 101.0 930.4 100.4C932.0 99.9 933.5 99.2 935.1 98.6C936.6 97.9 938.1 97.3 939.7 96.6C941.2 96.0 942.8 95.4 944.3 94.8C945.9 94.2 947.4 93.5 949.0 92.9C950.5 92.4 952.1 91.8 953.7 91.2C955.3 90.7 956.8 90.1 958.4 89.7C960.0 89.2 961.6 88.8 963.3 88.4C964.9 88.0 966.5 87.7 968.2 87.4C969.8 87.1 971.5 86.9 973.1 86.6C974.8 86.4 976.4 86.2 978.1 85.9C979.7 85.7 981.4 85.5 983.0 85.3C984.7 85.1 986.3 84.9 988.0 84.7C989.7 84.5 991.3 84.3 993.0 84.2C994.6 84.1 996.3 84.1 998.0 84.1C999.6 84.2 1001.3 84.3 1002.9 84.6C1004.6 84.8 1006.2 85.2 1007.7 85.8C1009.3 86.4 1010.8 87.1 1012.2 87.9C1013.6 88.8 1014.9 89.8 1016.1 91.0C1017.3 92.1 1018.4 93.4 1019.5 94.7C1020.5 96.0 1021.4 97.4 1022.2 98.8C1023.1 100.2 1023.8 101.7 1024.6 103.2C1025.3 104.7 1025.9 106.3 1026.5 107.8C1027.2 109.4 1027.7 110.9 1028.3 112.5C1028.8 114.1 1029.3 115.7 1029.8 117.3C1030.3 118.9 1030.7 120.5 1031.2 122.1C1031.6 123.7 1032.0 125.3 1032.5 126.9C1032.9 128.5 1033.3 130.1 1033.7 131.8C1034.1 133.4 1034.5 135.0 1034.9 136.6C1035.3 138.3 1035.6 139.9 1036.0 141.5C1036.3 143.1 1036.6 144.8 1037.0 146.4C1037.3 148.1 1037.6 149.7 1037.9 151.3C1038.1 153.0 1038.4 154.6 1038.7 156.3C1039.0 157.9 1039.2 159.6 1039.5 161.2C1039.7 162.9 1040.0 164.5 1040.2 166.2C1040.5 167.8 1040.7 169.5 1040.9 171.1C1041.2 172.8 1041.3 174.4 1041.5 176.1C1041.7 177.7 1041.8 179.4 1041.9 181.1C1042.0 182.7 1042.1 184.4 1042.1 186.1C1042.1 187.7 1042.1 189.4 1042.0 191.1C1041.9 192.7 1041.8 194.4 1041.6 196.1C1041.4 197.7 1041.2 199.4 1041.0 201.0C1040.7 202.7 1040.5 204.3 1040.2 206.0C1039.9 207.6 1039.6 209.2 1039.3 210.9C1038.9 212.5 1038.6 214.1 1038.2 215.8C1037.8 217.4 1037.4 219.0 1036.9 220.6C1036.5 222.2 1036.0 223.8 1035.5 225.4C1035.1 227.0 1034.6 228.6 1034.1 230.2C1033.5 231.8 1033.0 233.4 1032.5 234.9C1031.9 236.5 1031.4 238.1 1030.8 239.7C1030.3 241.2 1029.7 242.8 1029.1 244.4C1028.5 245.9 1028.0 247.5 1027.4 249.1C1026.8 250.6 1026.3 252.2 1025.7 253.8C1025.2 255.4 1024.7 257.0 1024.2 258.5C1023.6 260.1 1023.1 261.7 1022.5 263.2C1021.9 264.8 1021.2 266.3 1020.6 267.9C1020.0 269.4 1019.3 271.0 1018.6 272.5C1017.9 274.0 1017.2 275.5 1016.4 277.0C1015.6 278.4 1014.7 279.8 1013.8 281.2C1012.9 282.6 1011.8 283.9 1010.8 285.2C1009.7 286.5 1008.6 287.7 1007.4 288.9C1006.3 290.1 1005.1 291.3 1003.9 292.5C1002.7 293.6 1001.5 294.7 1000.2 295.8C998.9 296.9 997.7 298.0 996.4 299.0C995.1 300.1 993.8 301.1 992.4 302.1C991.1 303.1 989.8 304.1 988.4 305.1C987.1 306.1 985.7 307.0 984.3 307.9C982.9 308.8 981.5 309.7 980.0 310.6C978.6 311.4 977.1 312.2 975.7 313.0C974.2 313.7 972.7 314.5 971.1 315.1C969.6 315.8 968.0 316.3 966.5 316.8C964.9 317.4 963.3 317.8 961.7 318.3C960.1 318.7 958.4 319.1 956.8 319.5C955.2 319.9 953.6 320.3 951.9 320.7C950.3 321.1 948.7 321.4 947.1 321.9C945.5 322.3 943.9 322.8 942.3 323.4C940.8 324.0 939.3 324.7 937.8 325.4C936.2 326.1 934.7 326.8 933.2 327.5C931.7 328.2 930.2 328.9 928.7 329.6C927.1 330.3 925.6 330.9 924.1 331.5C922.5 332.2 921.0 332.8 919.4 333.3C917.8 333.9 916.2 334.4 914.6 334.8C913.0 335.3 911.4 335.6 909.8 336.0C908.1 336.3 906.5 336.5 904.8 336.7C903.2 336.8 901.5 336.9 899.8 336.9C898.2 336.8 896.5 336.7 894.9 336.5C893.2 336.3 891.6 336.0 890.0 335.6C888.3 335.2 886.8 334.6 885.2 334.0C883.7 333.4 882.2 332.6 880.7 331.9C879.2 331.1 877.8 330.3 876.4 329.4C874.9 328.6 873.5 327.7 872.1 326.8C870.7 326.0 869.3 325.0 867.8 324.2C866.4 323.4 865.0 322.5 863.4 321.8C861.9 321.2 860.4 320.5 858.8 320.3C857.2 320.1 855.5 320.2 854.0 320.6C852.5 321.0 851.1 322.0 849.8 322.9C848.5 323.9 847.3 325.2 846.2 326.4C845.2 327.7 844.2 329.0 843.2 330.4C842.2 331.7 841.3 333.1 840.3 334.5C839.4 335.8 838.4 337.2 837.3 338.5C836.3 339.7 835.2 341.0 833.9 342.1C832.7 343.2 831.3 344.2 829.9 344.9C828.4 345.5 826.8 346.0 825.3 345.9C823.8 345.8 822.3 345.1 821.1 344.2C819.8 343.3 818.8 341.9 817.9 340.5C817.1 339.1 816.4 337.6 815.7 336.1C815.1 334.5 814.5 333.0 814.0 331.4C813.5 329.8 813.0 328.2 812.6 326.6C812.2 324.9 811.9 323.3 811.6 321.7C811.3 320.0 811.1 318.4 810.9 316.7C810.7 315.1 810.6 313.4 810.5 311.7C810.4 310.1 810.4 308.4 810.5 306.7C810.5 305.1 810.6 303.4 810.8 301.7C810.9 300.1 811.1 298.4 811.3 296.8C811.6 295.1 811.9 293.5 812.2 291.9C812.6 290.2 813.0 288.6 813.5 287.0C813.9 285.4 814.5 283.8 815.1 282.3C815.7 280.7 816.4 279.2 817.1 277.7C817.9 276.3 818.7 274.8 819.6 273.4C820.5 272.0 821.5 270.6 822.5 269.3C823.4 268.0 824.5 266.7 825.5 265.4C826.6 264.0 827.6 262.7 828.6 261.4C829.5 260.0 830.5 258.7 831.4 257.3C832.3 255.9 833.2 254.5 834.1 253.0C834.9 251.6 835.6 250.1 836.3 248.6C836.9 247.0 837.5 245.5 837.9 243.9C838.4 242.3 838.8 240.6 839.1 239.0C839.4 237.4 839.6 235.7 839.9 234.1C840.1 232.4 840.2 230.8 840.4 229.1C840.6 227.4 840.8 225.8 841.0 224.1C841.2 222.5 841.5 220.8 841.7 219.2C841.9 217.5 842.1 215.9 842.3 214.2C842.4 212.5 842.6 210.9 842.7 209.2C842.8 207.6 843.0 205.9 843.1 204.2C843.2 202.6 843.3 200.9 843.4 199.2C843.5 197.6 843.6 195.9 843.8 194.2C844.0 192.6 844.2 190.9 844.4 189.3C844.7 187.6 845.0 186.0 845.3 184.4C845.6 182.7 846.0 181.1 846.4 179.5C846.8 177.9 847.2 176.2 847.7 174.7C848.2 173.1 848.8 171.5 849.5 170.0C850.1 168.4 850.8 166.9 851.6 165.5C852.4 164.0 853.3 162.6 854.2 161.2C855.2 159.9 856.2 158.5 857.3 157.3ZM865.9 157.2C866.9 155.9 868.1 154.7 869.2 153.5C870.3 152.2 871.5 151.0 872.6 149.7C873.7 148.5 874.8 147.2 875.9 145.9C877.0 144.6 878.0 143.3 879.2 142.1C880.3 140.8 881.4 139.5 882.6 138.3C883.8 137.1 885.0 135.9 886.2 134.8C887.4 133.6 888.6 132.5 889.9 131.4C891.2 130.2 892.5 129.2 893.8 128.1C895.1 127.1 896.5 126.1 897.9 125.2C899.3 124.2 900.7 123.3 902.1 122.5C903.6 121.6 905.0 120.7 906.5 119.9C908.0 119.1 909.4 118.3 910.9 117.5C912.5 116.8 914.0 116.1 915.5 115.4C917.1 114.8 918.7 114.3 920.3 113.7C921.9 113.2 923.5 112.7 925.1 112.2C926.7 111.7 928.3 111.2 929.9 110.7C931.5 110.1 933.1 109.5 934.6 108.8C936.2 108.2 937.7 107.5 939.3 106.9C940.8 106.2 942.4 105.5 943.9 104.8C945.4 104.1 946.9 103.4 948.5 102.7C950.0 102.0 951.5 101.3 953.1 100.6C954.6 100.0 956.2 99.3 957.8 98.8C959.4 98.2 961.0 97.7 962.6 97.3C964.2 96.8 965.9 96.5 967.5 96.2C969.2 95.9 970.9 95.6 972.5 95.4C974.2 95.2 975.9 95.0 977.5 94.8C979.2 94.6 980.9 94.4 982.6 94.2C984.2 94.0 985.9 93.9 987.6 93.8C989.3 93.7 991.0 93.6 992.6 93.6C994.3 93.7 996.0 93.8 997.7 94.0C999.3 94.3 1001.0 94.6 1002.6 95.1C1004.2 95.6 1005.8 96.2 1007.2 97.0C1008.7 97.8 1010.1 98.7 1011.4 99.8C1012.7 100.8 1013.9 102.1 1015.0 103.3C1016.1 104.6 1017.1 105.9 1018.0 107.3C1019.0 108.7 1019.8 110.2 1020.6 111.7C1021.4 113.1 1022.2 114.7 1022.8 116.2C1023.5 117.7 1024.1 119.3 1024.6 120.9C1025.2 122.5 1025.7 124.1 1026.2 125.7C1026.6 127.3 1027.1 129.0 1027.5 130.6C1027.9 132.2 1028.3 133.9 1028.7 135.5C1029.1 137.1 1029.5 138.8 1029.8 140.4C1030.1 142.1 1030.4 143.7 1030.8 145.4C1031.1 147.1 1031.3 148.7 1031.6 150.4C1031.9 152.0 1032.2 153.7 1032.4 155.4C1032.7 157.0 1032.9 158.7 1033.2 160.4C1033.4 162.0 1033.6 163.7 1033.8 165.4C1034.0 167.0 1034.2 168.7 1034.4 170.4C1034.6 172.1 1034.7 173.8 1034.8 175.4C1034.9 177.1 1035.0 178.8 1035.0 180.5C1035.0 182.2 1035.0 183.9 1035.0 185.5C1034.9 187.2 1034.8 188.9 1034.7 190.6C1034.5 192.3 1034.4 193.9 1034.2 195.6C1034.0 197.3 1033.8 199.0 1033.6 200.6C1033.3 202.3 1033.1 204.0 1032.8 205.6C1032.5 207.3 1032.1 208.9 1031.8 210.6C1031.4 212.2 1031.0 213.8 1030.6 215.5C1030.2 217.1 1029.8 218.7 1029.3 220.4C1028.9 222.0 1028.4 223.6 1027.9 225.2C1027.3 226.8 1026.8 228.4 1026.2 230.0C1025.6 231.5 1025.0 233.1 1024.4 234.7C1023.8 236.3 1023.1 237.8 1022.5 239.4C1021.8 240.9 1021.1 242.4 1020.4 244.0C1019.7 245.5 1019.0 247.0 1018.3 248.6C1017.6 250.1 1017.0 251.6 1016.3 253.2C1015.7 254.8 1015.2 256.4 1014.6 258.0C1014.0 259.5 1013.4 261.1 1012.8 262.7C1012.2 264.3 1011.6 265.8 1010.9 267.4C1010.2 268.9 1009.6 270.5 1008.9 272.0C1008.2 273.5 1007.4 275.0 1006.5 276.5C1005.7 277.9 1004.7 279.3 1003.7 280.6C1002.7 281.9 1001.5 283.2 1000.4 284.4C999.3 285.7 998.1 286.9 996.8 288.0C995.6 289.2 994.4 290.4 993.1 291.5C991.9 292.6 990.6 293.7 989.3 294.7C988.0 295.8 986.6 296.8 985.2 297.8C983.9 298.7 982.5 299.7 981.0 300.6C979.6 301.5 978.2 302.3 976.7 303.1C975.2 303.9 973.7 304.7 972.1 305.3C970.6 305.9 969.0 306.5 967.4 307.0C965.8 307.4 964.1 307.8 962.5 308.1C960.8 308.5 959.2 308.8 957.5 309.2C955.9 309.5 954.2 309.9 952.6 310.3C951.0 310.7 949.3 311.1 947.7 311.5C946.1 312.0 944.5 312.5 942.9 313.1C941.3 313.7 939.8 314.4 938.3 315.1C936.7 315.8 935.2 316.5 933.7 317.2C932.2 317.9 930.6 318.6 929.1 319.3C927.5 320.0 926.0 320.7 924.4 321.3C922.9 321.9 921.3 322.6 919.7 323.1C918.2 323.7 916.5 324.2 914.9 324.6C913.3 325.1 911.6 325.4 910.0 325.8C908.3 326.1 906.7 326.4 905.0 326.6C903.3 326.7 901.7 326.9 900.0 326.8C898.3 326.7 896.6 326.5 895.0 326.2C893.3 325.9 891.7 325.5 890.1 325.0C888.5 324.6 886.9 324.0 885.3 323.4C883.8 322.7 882.3 321.9 880.8 321.1C879.4 320.3 877.9 319.4 876.5 318.4C875.1 317.5 873.8 316.5 872.4 315.5C871.1 314.5 869.7 313.5 868.5 312.4C867.2 311.3 865.9 310.1 864.7 309.0C863.5 307.9 862.3 306.7 861.0 305.6C859.8 304.4 858.5 303.3 857.2 302.2C855.9 301.2 854.6 300.1 853.2 299.1C851.8 298.2 850.4 297.2 848.9 296.7C847.4 296.1 845.6 295.6 844.1 295.8C842.6 296.0 841.1 296.8 839.9 297.8C838.7 298.8 837.9 300.6 836.9 301.8C835.9 302.9 834.7 304.6 833.9 304.7C833.0 304.8 832.1 303.6 831.8 302.4C831.6 301.2 832.1 299.2 832.5 297.7C833.0 296.1 833.8 294.6 834.6 293.1C835.4 291.6 836.4 290.2 837.2 288.7C837.9 287.3 838.7 285.8 839.3 284.2C839.9 282.6 840.4 281.0 840.8 279.4C841.2 277.8 841.5 276.1 841.9 274.4C842.2 272.8 842.4 271.1 842.6 269.5C842.9 267.8 843.1 266.1 843.3 264.4C843.5 262.8 843.8 261.1 844.0 259.4C844.2 257.8 844.4 256.1 844.6 254.4C844.8 252.7 845.0 251.1 845.2 249.4C845.3 247.7 845.5 246.0 845.6 244.4C845.8 242.7 845.9 241.0 846.0 239.3C846.1 237.7 846.2 236.0 846.3 234.3C846.4 232.6 846.4 230.9 846.5 229.2C846.6 227.6 846.7 225.9 846.8 224.2C847.0 222.5 847.2 220.9 847.4 219.2C847.7 217.5 847.9 215.9 848.1 214.2C848.3 212.5 848.5 210.8 848.7 209.2C848.9 207.5 849.1 205.8 849.3 204.1C849.4 202.5 849.6 200.8 849.8 199.1C850.1 197.5 850.3 195.8 850.5 194.1C850.8 192.5 851.1 190.8 851.5 189.2C851.8 187.5 852.2 185.9 852.6 184.2C853.0 182.6 853.5 181.0 854.0 179.4C854.5 177.8 855.1 176.2 855.7 174.6C856.4 173.1 857.0 171.5 857.8 170.0C858.5 168.5 859.3 167.0 860.1 165.6C861.0 164.1 861.9 162.7 862.8 161.3C863.8 159.9 864.8 158.5 865.9 157.2ZM868.8 165.0C869.7 163.6 870.6 162.3 871.6 160.9C872.6 159.6 873.6 158.2 874.7 157.0C875.8 155.7 876.9 154.4 878.0 153.2C879.2 152.0 880.3 150.7 881.5 149.5C882.6 148.3 883.8 147.1 885.0 145.9C886.1 144.7 887.3 143.5 888.5 142.4C889.8 141.2 891.0 140.1 892.3 139.0C893.6 138.0 894.9 136.9 896.2 135.9C897.5 134.9 898.9 133.9 900.3 133.0C901.7 132.1 903.1 131.2 904.6 130.4C906.0 129.6 907.5 128.8 909.1 128.1C910.6 127.4 912.1 126.8 913.7 126.2C915.2 125.6 916.8 125.1 918.4 124.6C920.0 124.1 921.7 123.7 923.3 123.2C924.9 122.8 926.5 122.4 928.1 121.9C929.7 121.4 931.3 120.8 932.8 120.2C934.3 119.5 935.8 118.8 937.4 118.1C938.9 117.3 940.4 116.6 941.9 115.9C943.4 115.2 944.9 114.5 946.4 113.8C948.0 113.1 949.5 112.3 951.0 111.7C952.5 111.0 954.1 110.3 955.6 109.7C957.2 109.1 958.8 108.5 960.4 108.0C962.0 107.6 963.6 107.1 965.2 106.8C966.8 106.4 968.5 106.1 970.1 105.8C971.8 105.5 973.5 105.3 975.1 105.1C976.8 104.9 978.4 104.7 980.1 104.6C981.8 104.5 983.5 104.4 985.1 104.4C986.8 104.4 988.5 104.5 990.1 104.7C991.8 104.9 993.5 105.1 995.1 105.5C996.7 105.9 998.3 106.3 999.9 106.9C1001.4 107.5 1002.9 108.2 1004.4 109.1C1005.8 109.9 1007.2 110.9 1008.4 112.0C1009.7 113.0 1010.9 114.3 1011.9 115.5C1013.0 116.8 1014.0 118.1 1014.9 119.5C1015.9 120.9 1016.7 122.4 1017.4 123.9C1018.2 125.3 1018.9 126.9 1019.5 128.4C1020.1 130.0 1020.7 131.6 1021.1 133.2C1021.6 134.8 1022.1 136.4 1022.5 138.0C1022.9 139.6 1023.3 141.3 1023.6 142.9C1024.0 144.5 1024.3 146.2 1024.6 147.8C1024.9 149.5 1025.2 151.1 1025.5 152.8C1025.8 154.4 1026.0 156.1 1026.3 157.7C1026.5 159.4 1026.7 161.1 1027.0 162.7C1027.2 164.4 1027.3 166.0 1027.5 167.7C1027.7 169.4 1027.8 171.0 1027.9 172.7C1028.0 174.4 1028.1 176.1 1028.2 177.7C1028.2 179.4 1028.3 181.1 1028.3 182.8C1028.2 184.4 1028.2 186.1 1028.1 187.8C1028.0 189.4 1027.8 191.1 1027.6 192.8C1027.4 194.4 1027.1 196.1 1026.9 197.7C1026.6 199.4 1026.3 201.0 1026.0 202.7C1025.7 204.3 1025.3 206.0 1025.0 207.6C1024.6 209.2 1024.2 210.9 1023.8 212.5C1023.4 214.1 1022.9 215.7 1022.5 217.3C1022.0 218.9 1021.5 220.5 1020.9 222.1C1020.4 223.7 1019.8 225.3 1019.2 226.8C1018.6 228.4 1018.0 230.0 1017.3 231.5C1016.7 233.0 1016.0 234.6 1015.3 236.1C1014.5 237.6 1013.8 239.1 1013.0 240.6C1012.3 242.1 1011.5 243.6 1010.8 245.1C1010.0 246.6 1009.2 248.1 1008.5 249.6C1007.8 251.1 1007.1 252.6 1006.3 254.1C1005.6 255.6 1004.9 257.1 1004.2 258.6C1003.4 260.1 1002.7 261.6 1001.9 263.1C1001.2 264.6 1000.5 266.1 999.7 267.6C998.9 269.1 998.2 270.6 997.4 272.1C996.6 273.5 995.7 275.0 994.8 276.4C993.9 277.8 993.0 279.2 991.9 280.5C990.9 281.8 989.8 283.1 988.7 284.3C987.6 285.5 986.4 286.7 985.1 287.8C983.9 288.9 982.6 290.0 981.2 290.9C979.8 291.9 978.4 292.7 976.9 293.5C975.4 294.3 973.9 295.0 972.4 295.7C970.8 296.4 969.3 297.0 967.7 297.5C966.1 298.0 964.5 298.5 962.9 299.0C961.3 299.5 959.7 299.9 958.1 300.3C956.4 300.7 954.8 301.1 953.2 301.5C951.5 301.9 949.9 302.3 948.3 302.7C946.7 303.1 945.1 303.6 943.5 304.1C941.9 304.6 940.3 305.2 938.8 305.8C937.2 306.4 935.7 307.1 934.1 307.7C932.6 308.3 931.0 309.0 929.5 309.6C927.9 310.2 926.3 310.8 924.8 311.4C923.2 312.0 921.6 312.5 920.0 313.0C918.4 313.5 916.8 314.0 915.2 314.3C913.5 314.7 911.9 315.0 910.2 315.2C908.6 315.5 906.9 315.7 905.2 315.8C903.6 315.8 901.9 315.9 900.3 315.7C898.6 315.6 896.9 315.3 895.3 314.9C893.7 314.6 892.1 314.1 890.5 313.5C889.0 312.9 887.4 312.3 885.9 311.5C884.5 310.7 883.0 309.9 881.6 309.0C880.2 308.1 878.9 307.1 877.5 306.1C876.2 305.0 875.0 303.9 873.8 302.7C872.6 301.6 871.4 300.4 870.3 299.1C869.2 297.9 868.2 296.6 867.2 295.2C866.2 293.9 865.3 292.5 864.4 291.0C863.5 289.6 862.7 288.1 862.0 286.6C861.3 285.1 860.6 283.6 859.9 282.1C859.3 280.5 858.7 278.9 858.2 277.3C857.7 275.8 857.2 274.2 856.8 272.5C856.3 270.9 855.9 269.3 855.6 267.7C855.2 266.0 854.9 264.4 854.6 262.7C854.3 261.1 854.1 259.4 853.8 257.8C853.6 256.1 853.4 254.4 853.2 252.8C853.1 251.1 852.9 249.4 852.8 247.8C852.7 246.1 852.6 244.4 852.5 242.8C852.4 241.1 852.4 239.4 852.3 237.7C852.3 236.1 852.3 234.4 852.4 232.7C852.4 231.0 852.5 229.4 852.7 227.7C852.8 226.0 853.0 224.4 853.2 222.7C853.4 221.0 853.7 219.4 853.9 217.7C854.1 216.1 854.4 214.4 854.6 212.8C854.8 211.1 855.0 209.4 855.3 207.8C855.5 206.1 855.7 204.5 855.9 202.8C856.2 201.1 856.4 199.5 856.7 197.8C857.0 196.2 857.3 194.5 857.7 192.9C858.1 191.3 858.5 189.6 858.9 188.0C859.4 186.4 859.9 184.8 860.4 183.2C860.9 181.6 861.4 180.1 862.0 178.5C862.6 176.9 863.3 175.4 864.0 173.9C864.7 172.3 865.4 170.8 866.2 169.4C867.0 167.9 867.9 166.5 868.8 165.0ZM873.8 172.9C874.6 171.5 875.5 170.1 876.4 168.7C877.3 167.3 878.3 165.9 879.3 164.6C880.3 163.2 881.3 161.9 882.3 160.6C883.4 159.3 884.5 158.0 885.6 156.8C886.8 155.6 888.0 154.5 889.2 153.3C890.4 152.2 891.6 151.0 892.9 149.9C894.1 148.8 895.4 147.7 896.7 146.7C898.0 145.6 899.3 144.6 900.6 143.6C902.0 142.7 903.4 141.7 904.8 140.9C906.3 140.0 907.7 139.3 909.3 138.6C910.8 137.9 912.4 137.3 913.9 136.8C915.5 136.3 917.1 135.8 918.7 135.4C920.4 135.0 922.0 134.7 923.6 134.4C925.3 134.1 926.9 133.8 928.6 133.5C930.2 133.1 931.8 132.7 933.4 132.2C935.0 131.6 936.5 131.0 938.1 130.4C939.6 129.7 941.1 129.0 942.6 128.2C944.0 127.4 945.5 126.6 946.9 125.7C948.4 124.9 949.8 124.1 951.3 123.3C952.8 122.5 954.2 121.7 955.8 121.0C957.3 120.3 958.8 119.7 960.4 119.2C962.0 118.6 963.6 118.2 965.2 117.8C966.8 117.3 968.5 117.0 970.1 116.7C971.7 116.4 973.4 116.1 975.1 115.9C976.7 115.7 978.4 115.5 980.0 115.4C981.7 115.3 983.4 115.2 985.0 115.3C986.7 115.3 988.4 115.5 990.0 115.8C991.6 116.1 993.3 116.5 994.8 117.0C996.4 117.5 998.0 118.1 999.5 118.8C1000.9 119.6 1002.4 120.5 1003.7 121.4C1005.0 122.4 1006.3 123.5 1007.5 124.7C1008.6 125.9 1009.7 127.2 1010.6 128.5C1011.6 129.9 1012.4 131.4 1013.2 132.8C1013.9 134.3 1014.6 135.9 1015.2 137.4C1015.8 139.0 1016.3 140.6 1016.8 142.1C1017.3 143.7 1017.7 145.4 1018.1 147.0C1018.5 148.6 1018.9 150.2 1019.2 151.9C1019.5 153.5 1019.8 155.2 1020.1 156.8C1020.3 158.5 1020.6 160.1 1020.8 161.8C1021.0 163.4 1021.2 165.1 1021.4 166.8C1021.5 168.4 1021.7 170.1 1021.8 171.7C1021.9 173.4 1022.0 175.1 1022.0 176.7C1022.0 178.4 1022.0 180.1 1021.9 181.8C1021.8 183.4 1021.7 185.1 1021.6 186.8C1021.4 188.4 1021.2 190.1 1021.0 191.7C1020.8 193.4 1020.5 195.0 1020.2 196.7C1020.0 198.3 1019.6 200.0 1019.3 201.6C1018.9 203.2 1018.6 204.9 1018.1 206.5C1017.7 208.1 1017.3 209.7 1016.8 211.3C1016.3 212.9 1015.8 214.5 1015.2 216.1C1014.7 217.7 1014.1 219.2 1013.5 220.8C1012.9 222.3 1012.3 223.9 1011.6 225.4C1010.9 226.9 1010.2 228.5 1009.5 230.0C1008.8 231.5 1008.0 233.0 1007.3 234.5C1006.5 235.9 1005.7 237.4 1004.9 238.9C1004.1 240.4 1003.3 241.8 1002.5 243.3C1001.7 244.7 1000.8 246.2 1000.0 247.6C999.2 249.1 998.4 250.6 997.6 252.0C996.8 253.5 995.9 254.9 995.1 256.4C994.2 257.8 993.3 259.2 992.4 260.6C991.4 262.0 990.5 263.3 989.5 264.7C988.5 266.0 987.5 267.3 986.4 268.6C985.4 270.0 984.3 271.2 983.2 272.5C982.1 273.7 981.0 275.0 979.8 276.2C978.7 277.4 977.5 278.5 976.2 279.7C975.0 280.8 973.8 281.9 972.4 282.9C971.1 283.9 969.7 284.8 968.2 285.5C966.7 286.3 965.2 286.9 963.6 287.6C962.1 288.2 960.5 288.7 958.9 289.2C957.3 289.6 955.7 290.0 954.0 290.4C952.4 290.7 950.8 291.0 949.1 291.3C947.5 291.7 945.9 292.0 944.3 292.5C942.7 292.9 941.1 293.5 939.5 294.1C938.0 294.7 936.4 295.4 934.9 296.0C933.3 296.6 931.8 297.3 930.2 297.9C928.7 298.5 927.1 299.1 925.5 299.6C924.0 300.2 922.4 300.8 920.8 301.3C919.2 301.8 917.6 302.3 916.0 302.7C914.4 303.0 912.7 303.4 911.1 303.6C909.4 303.9 907.8 304.0 906.1 304.0C904.5 304.0 902.8 303.9 901.1 303.7C899.5 303.4 897.9 303.1 896.3 302.6C894.7 302.0 893.2 301.4 891.7 300.6C890.2 299.9 888.8 299.0 887.4 298.1C886.0 297.2 884.7 296.1 883.5 295.0C882.2 294.0 881.0 292.8 879.9 291.5C878.8 290.3 877.7 289.0 876.7 287.7C875.7 286.3 874.8 284.9 873.9 283.5C873.0 282.1 872.1 280.7 871.3 279.3C870.5 277.8 869.7 276.3 869.0 274.8C868.3 273.3 867.6 271.8 867.1 270.2C866.5 268.6 866.0 267.1 865.4 265.5C864.9 263.9 864.5 262.3 864.0 260.6C863.6 259.0 863.2 257.4 862.8 255.8C862.4 254.2 862.1 252.5 861.8 250.9C861.5 249.2 861.2 247.6 861.0 245.9C860.7 244.3 860.5 242.6 860.4 241.0C860.2 239.3 860.0 237.6 860.0 236.0C859.9 234.3 859.9 232.6 859.9 231.0C859.9 229.3 860.0 227.6 860.2 226.0C860.3 224.3 860.5 222.6 860.6 221.0C860.8 219.3 861.1 217.7 861.3 216.0C861.5 214.3 861.8 212.7 862.0 211.0C862.3 209.4 862.5 207.7 862.8 206.1C863.1 204.4 863.4 202.8 863.7 201.2C864.0 199.5 864.4 197.9 864.8 196.3C865.2 194.6 865.6 193.0 866.1 191.4C866.6 189.8 867.2 188.3 867.7 186.7C868.3 185.1 868.9 183.6 869.5 182.0C870.2 180.5 870.8 178.9 871.5 177.4C872.2 175.9 873.0 174.4 873.8 172.9ZM878.4 185.1C879.1 183.6 879.9 182.1 880.7 180.6C881.5 179.1 882.4 177.7 883.3 176.2C884.2 174.8 885.1 173.4 886.1 172.1C887.1 170.7 888.2 169.4 889.2 168.1C890.3 166.8 891.4 165.5 892.6 164.3C893.8 163.0 895.0 161.9 896.3 160.7C897.5 159.6 898.9 158.6 900.2 157.6C901.6 156.6 903.0 155.7 904.5 154.8C905.9 153.9 907.4 153.1 908.9 152.4C910.5 151.8 912.1 151.2 913.7 150.8C915.3 150.3 917.0 149.9 918.6 149.6C920.3 149.2 921.9 149.0 923.6 148.7C925.3 148.3 927.0 148.1 928.6 147.7C930.2 147.4 931.9 147.0 933.5 146.4C935.1 145.9 936.6 145.2 938.2 144.5C939.7 143.8 941.2 142.9 942.6 142.1C944.1 141.2 945.5 140.3 946.9 139.4C948.4 138.5 949.8 137.6 951.3 136.8C952.8 136.0 954.3 135.2 955.8 134.5C957.3 133.7 958.8 133.0 960.4 132.3C961.9 131.6 963.5 131.0 965.1 130.5C966.7 130.0 968.4 129.6 970.0 129.2C971.7 128.9 973.3 128.7 975.0 128.5C976.7 128.3 978.4 128.2 980.1 128.2C981.8 128.2 983.5 128.3 985.1 128.5C986.8 128.7 988.5 129.0 990.1 129.4C991.7 129.9 993.3 130.5 994.7 131.3C996.2 132.1 997.6 133.0 998.9 134.1C1000.3 135.1 1001.5 136.3 1002.6 137.5C1003.7 138.8 1004.8 140.1 1005.7 141.5C1006.6 142.9 1007.4 144.4 1008.1 146.0C1008.8 147.5 1009.4 149.1 1009.9 150.7C1010.5 152.3 1010.9 153.9 1011.4 155.5C1011.8 157.2 1012.1 158.8 1012.5 160.5C1012.8 162.2 1013.1 163.8 1013.4 165.5C1013.6 167.2 1013.8 168.9 1014.0 170.5C1014.2 172.2 1014.4 173.9 1014.5 175.6C1014.7 177.3 1014.8 179.0 1014.8 180.7C1014.8 182.3 1014.7 184.0 1014.6 185.7C1014.5 187.4 1014.3 189.1 1014.1 190.8C1013.9 192.4 1013.6 194.1 1013.4 195.8C1013.1 197.5 1012.7 199.1 1012.4 200.8C1012.0 202.4 1011.7 204.1 1011.2 205.7C1010.8 207.4 1010.4 209.0 1009.9 210.6C1009.4 212.2 1008.9 213.9 1008.4 215.5C1007.8 217.1 1007.2 218.6 1006.6 220.2C1005.9 221.8 1005.2 223.3 1004.5 224.9C1003.8 226.4 1003.1 227.9 1002.4 229.4C1001.6 231.0 1000.9 232.5 1000.1 234.0C999.3 235.5 998.5 237.0 997.7 238.5C996.9 239.9 996.0 241.4 995.2 242.9C994.3 244.3 993.3 245.7 992.4 247.1C991.4 248.5 990.4 249.9 989.4 251.2C988.3 252.5 987.2 253.8 986.1 255.1C985.0 256.3 983.8 257.6 982.6 258.8C981.4 260.0 980.2 261.1 978.9 262.2C977.7 263.4 976.4 264.5 975.0 265.5C973.7 266.5 972.3 267.5 970.9 268.4C969.5 269.4 968.0 270.2 966.6 271.1C965.1 271.9 963.6 272.6 962.0 273.4C960.5 274.1 959.0 274.8 957.4 275.5C955.9 276.1 954.3 276.7 952.7 277.3C951.1 277.9 949.5 278.5 947.9 279.0C946.3 279.5 944.7 280.1 943.1 280.6C941.4 281.1 939.8 281.6 938.2 282.0C936.6 282.5 935.0 283.0 933.3 283.5C931.7 284.0 930.1 284.4 928.5 284.9C926.8 285.4 925.2 286.0 923.6 286.5C922.0 287.0 920.4 287.6 918.8 288.2C917.2 288.7 915.6 289.3 914.0 289.7C912.4 290.2 910.7 290.6 909.1 290.9C907.4 291.1 905.7 291.3 904.1 291.1C902.5 291.0 900.8 290.6 899.3 290.1C897.7 289.5 896.2 288.7 894.8 287.8C893.3 286.9 892.0 285.9 890.7 284.8C889.4 283.7 888.2 282.5 887.1 281.3C885.9 280.1 884.9 278.7 883.9 277.4C882.9 276.0 882.0 274.5 881.2 273.1C880.3 271.6 879.5 270.1 878.8 268.6C878.0 267.1 877.4 265.5 876.7 264.0C876.0 262.4 875.4 260.9 874.8 259.3C874.3 257.7 873.7 256.1 873.2 254.5C872.7 252.8 872.2 251.2 871.8 249.6C871.4 247.9 871.0 246.3 870.6 244.6C870.3 243.0 870.0 241.3 869.7 239.6C869.5 238.0 869.3 236.3 869.2 234.6C869.1 232.9 869.1 231.2 869.1 229.5C869.1 227.8 869.2 226.2 869.3 224.5C869.4 222.8 869.6 221.1 869.8 219.4C869.9 217.7 870.2 216.0 870.4 214.4C870.6 212.7 870.8 211.0 871.1 209.3C871.4 207.7 871.7 206.0 872.0 204.3C872.3 202.7 872.7 201.0 873.1 199.4C873.5 197.8 874.0 196.1 874.5 194.5C875.1 192.9 875.6 191.3 876.3 189.8C876.9 188.2 877.6 186.6 878.4 185.1ZM882.6 212.0C883.1 210.4 883.6 208.7 884.1 207.1C884.6 205.5 885.2 203.9 885.8 202.3C886.5 200.7 887.2 199.1 887.9 197.6C888.6 196.0 889.4 194.5 890.3 193.0C891.1 191.5 892.0 190.1 892.9 188.6C893.8 187.2 894.8 185.8 895.8 184.4C896.8 183.0 897.9 181.7 899.0 180.4C900.1 179.1 901.2 177.8 902.4 176.6C903.6 175.4 904.9 174.2 906.2 173.1C907.5 172.1 908.9 171.1 910.4 170.2C911.9 169.4 913.4 168.6 915.0 168.1C916.6 167.5 918.3 167.1 919.9 166.8C921.6 166.5 923.3 166.5 925.0 166.3C926.7 166.1 928.4 166.1 930.1 165.8C931.8 165.6 933.5 165.2 935.1 164.7C936.7 164.1 938.2 163.4 939.7 162.6C941.2 161.8 942.7 160.9 944.1 159.9C945.5 158.9 946.7 157.8 948.1 156.7C949.4 155.7 950.7 154.5 952.1 153.5C953.4 152.5 954.8 151.4 956.2 150.5C957.7 149.6 959.1 148.7 960.6 147.9C962.2 147.2 963.8 146.5 965.4 146.0C967.0 145.5 968.7 145.1 970.3 144.8C972.0 144.5 973.7 144.3 975.4 144.2C977.1 144.2 978.8 144.2 980.5 144.5C982.2 144.7 983.9 145.0 985.5 145.5C987.1 146.0 988.7 146.5 990.2 147.3C991.7 148.2 993.1 149.2 994.3 150.3C995.5 151.4 996.6 152.8 997.6 154.1C998.6 155.5 999.5 157.0 1000.2 158.5C1001.0 160.0 1001.7 161.6 1002.3 163.2C1002.9 164.8 1003.5 166.4 1003.9 168.1C1004.4 169.7 1004.8 171.4 1005.1 173.1C1005.3 174.7 1005.6 176.4 1005.7 178.1C1005.8 179.8 1005.9 181.5 1005.8 183.3C1005.8 185.0 1005.7 186.7 1005.6 188.4C1005.4 190.1 1005.2 191.8 1005.0 193.5C1004.7 195.2 1004.4 196.9 1004.1 198.5C1003.8 200.2 1003.4 201.9 1003.0 203.5C1002.6 205.2 1002.1 206.9 1001.7 208.5C1001.2 210.1 1000.6 211.8 1000.1 213.4C999.5 215.0 998.9 216.6 998.2 218.2C997.6 219.7 996.9 221.3 996.1 222.9C995.4 224.4 994.7 225.9 993.9 227.5C993.1 229.0 992.3 230.5 991.4 232.0C990.6 233.5 989.7 234.9 988.8 236.4C987.9 237.8 986.9 239.2 985.9 240.6C984.9 242.0 983.8 243.3 982.7 244.6C981.6 246.0 980.5 247.3 979.3 248.5C978.1 249.7 976.9 250.9 975.6 252.0C974.3 253.1 972.9 254.1 971.5 255.1C970.1 256.1 968.7 257.0 967.2 257.8C965.7 258.6 964.1 259.3 962.5 259.8C960.9 260.4 959.3 260.9 957.6 261.3C955.9 261.7 954.2 261.9 952.6 262.2C950.9 262.5 949.2 262.6 947.5 262.9C945.8 263.1 944.1 263.5 942.5 263.9C940.8 264.3 939.2 264.8 937.5 265.3C935.9 265.8 934.3 266.4 932.7 266.9C931.0 267.4 929.4 268.0 927.8 268.5C926.2 269.0 924.5 269.5 922.9 270.0C921.2 270.4 919.6 270.9 917.9 271.2C916.2 271.6 914.5 271.9 912.8 272.0C911.1 272.1 909.4 272.2 907.8 272.0C906.1 271.8 904.4 271.5 902.9 270.9C901.3 270.3 899.9 269.4 898.5 268.4C897.2 267.3 896.0 266.1 894.9 264.8C893.7 263.6 892.7 262.2 891.7 260.8C890.7 259.5 889.7 258.0 888.9 256.5C888.0 255.1 887.2 253.5 886.5 252.0C885.8 250.4 885.2 248.8 884.6 247.2C884.1 245.6 883.6 244.0 883.2 242.3C882.7 240.7 882.4 239.0 882.1 237.3C881.7 235.6 881.4 233.9 881.2 232.2C881.0 230.6 880.7 228.9 880.6 227.2C880.6 225.5 880.6 223.7 880.7 222.1C880.8 220.4 881.1 218.7 881.4 217.0C881.7 215.3 882.2 213.7 882.6 212.0ZM968.9 167.0C970.5 167.1 972.1 167.5 973.7 168.0C975.3 168.4 976.8 169.2 978.3 170.0C979.7 170.8 981.2 171.7 982.5 172.7C983.8 173.7 985.0 174.9 986.1 176.1C987.2 177.3 988.2 178.7 989.1 180.1C990.0 181.5 990.7 183.0 991.3 184.6C991.8 186.1 992.3 187.8 992.6 189.4C992.9 191.0 993.1 192.7 993.3 194.4C993.4 196.1 993.4 197.7 993.3 199.4C993.2 201.1 993.0 202.7 992.7 204.4C992.4 206.0 992.0 207.7 991.6 209.3C991.2 210.9 990.7 212.5 990.1 214.1C989.5 215.6 988.8 217.2 988.0 218.6C987.2 220.1 986.3 221.5 985.4 222.9C984.4 224.3 983.4 225.6 982.3 226.9C981.2 228.1 980.1 229.4 978.9 230.6C977.7 231.8 976.5 232.9 975.2 233.9C973.9 235.0 972.5 236.0 971.1 236.8C969.7 237.7 968.2 238.5 966.6 239.0C965.1 239.6 963.4 239.9 961.8 240.2C960.2 240.4 958.5 240.5 956.8 240.5C955.1 240.6 953.4 240.5 951.8 240.5C950.1 240.5 948.4 240.4 946.7 240.3C945.1 240.3 943.4 240.2 941.7 240.2C940.0 240.2 938.3 240.3 936.7 240.5C935.0 240.6 933.4 240.9 931.7 241.2C930.1 241.6 928.5 242.0 926.8 242.4C925.2 242.7 923.5 243.1 921.9 243.3C920.2 243.5 918.6 243.6 916.9 243.4C915.3 243.3 913.6 242.9 912.1 242.3C910.6 241.7 909.2 240.8 907.9 239.8C906.6 238.8 905.5 237.6 904.5 236.2C903.6 234.9 902.8 233.4 902.2 231.9C901.6 230.3 901.2 228.7 900.9 227.0C900.6 225.4 900.3 223.7 900.2 222.1C900.1 220.4 900.1 218.7 900.3 217.1C900.5 215.4 900.9 213.8 901.3 212.2C901.8 210.6 902.4 209.0 903.2 207.5C903.9 206.1 904.7 204.6 905.7 203.2C906.7 201.9 907.8 200.6 908.9 199.4C910.1 198.3 911.4 197.2 912.8 196.3C914.2 195.5 915.8 194.8 917.3 194.3C918.9 193.7 920.5 193.4 922.2 193.1C923.8 192.8 925.5 192.6 927.1 192.2C928.7 191.9 930.4 191.4 931.9 190.8C933.5 190.2 935.0 189.5 936.4 188.6C937.8 187.8 939.2 186.7 940.4 185.7C941.7 184.6 943.0 183.5 944.1 182.3C945.3 181.1 946.4 179.8 947.6 178.6C948.8 177.4 949.9 176.2 951.2 175.1C952.5 174.0 953.8 173.0 955.1 172.0C956.5 171.1 957.9 170.1 959.4 169.4C960.9 168.6 962.4 167.9 964.0 167.5C965.6 167.1 967.3 166.9 968.9 167.0Z" stroke="#ffff00" stroke-width="1.9" fill="none" stroke-linejoin="round"/>
<ellipse cx="215.4" cy="208.8" rx="6.1" ry="19.6" transform="rotate(11.1 215.4 208.8)" stroke="#ffff00" stroke-width="1.9" fill="none"/><ellipse cx="1095.0" cy="92.5" rx="7.8" ry="19.2" transform="rotate(2.7 1095.0 92.5)" stroke="#ffff00" stroke-width="1.9" fill="none"/><ellipse cx="243.3" cy="654.0" rx="7.6" ry="16.1" transform="rotate(4.0 243.3 654.0)" stroke="#ffff00" stroke-width="1.9" fill="none"/>
<clipPath id="bc"><ellipse cx="183.3" cy="638.8" rx="18.8" ry="45.6" transform="rotate(10.8 183.3 638.8)"/></clipPath><path d="M150 595.1H215M150 599.0H215M150 603.0H215M150 606.9H215M150 610.8H215M150 614.7H215M150 618.7H215M150 622.6H215M150 626.5H215M150 630.5H215M150 634.4H215M150 638.3H215M150 642.3H215M150 646.2H215M150 650.1H215M150 654.0H215M150 658.0H215M150 661.9H215M150 665.8H215M150 669.8H215M150 673.7H215M150 677.6H215M150 681.6H215M150 685.5H215" stroke="#c6c600" stroke-width="1.5" clip-path="url(#bc)"/><ellipse cx="183.3" cy="638.8" rx="18.8" ry="45.6" transform="rotate(10.8 183.3 638.8)" stroke="#e0e000" stroke-width="1.25" fill="none"/>
</g>
<g class="yl"><text x="135.6" y="72">3C446</text><text x="567" y="72" text-anchor="middle" style="font-size:31.2px">16 July 2018</text></g>
<path d="M257.0 0V16M257.0 757V741M493.6 0V16M493.6 757V741M730.2 0V16M730.2 757V741M966.8 0V16M966.8 757V741M124 85.9H144M1117 85.9H1096.5M124 204.4H144M1117 204.4H1096.5M124 322.9H144M1117 322.9H1096.5M124 441.4H144M1117 441.4H1096.5M124 559.9H144M1117 559.9H1096.5M124 678.4H144M1117 678.4H1096.5" stroke="#a51a00" stroke-width="1.3" fill="none"/><path d="M124 0V757H1117" stroke="#be1600" stroke-width="2" fill="none"/><path d="M123 0.5H1117" stroke="#8e1600" stroke-width="1.6" fill="none"/><path d="M1116.6 0V757" stroke="#be1600" stroke-width="1.3" fill="none"/>
<g class="ax"><text x="257.0" y="813" text-anchor="middle">3</text><text x="493.6" y="813" text-anchor="middle">2</text><text x="730.2" y="813" text-anchor="middle">1</text><text x="966.8" y="813" text-anchor="middle">0</text><text x="113.6" y="101.3" text-anchor="end">0.5</text><text x="113.6" y="219.8" text-anchor="end">0.0</text><text x="113.6" y="338.3" text-anchor="end">-0.5</text><text x="113.6" y="456.8" text-anchor="end">-1.0</text><text x="113.6" y="575.3" text-anchor="end">-1.5</text><text x="113.6" y="693.8" text-anchor="end">-2.0</text><text x="620.6" y="861" text-anchor="middle">RA (mas)</text><text transform="translate(24.4 378.5) rotate(-90)" text-anchor="middle" style="font-size:31.6px">Dec (mas)</text></g>
</svg>
</body></html>
